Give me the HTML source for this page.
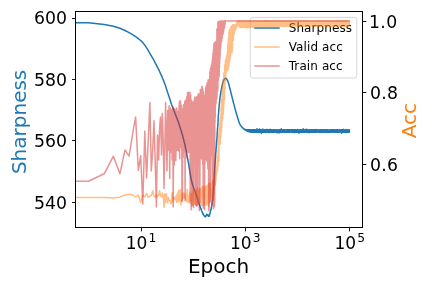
<!DOCTYPE html>
<html><head><meta charset="utf-8"><title>Sharpness / Acc vs Epoch</title>
<style>html,body{margin:0;padding:0;background:#fff}body{width:432px;height:288px;overflow:hidden}</style></head>
<body>
<svg width="432" height="288" viewBox="0 0 432 288" style="display:block;font-family:'DejaVu Sans','Liberation Sans',sans-serif">
<defs><clipPath id="c"><rect x="75.45" y="11.00" width="287.04" height="216.00"/></clipPath></defs>
<rect width="432" height="288" fill="#fff"/>
<g clip-path="url(#c)" fill="none" stroke-linejoin="round">
<path d="M60.0 22.8 L88.5 22.8 L104.2 24.6 L113.4 26.2 L119.9 28.3 L125.0 30.5 L129.1 32.6 L132.6 34.7 L135.6 36.7 L138.3 38.6 L140.7 40.5 L142.8 42.6 L144.8 45.2 L146.6 47.9 L148.3 50.7 L149.9 53.3 L151.3 55.8 L152.7 58.2 L154.0 60.5 L155.2 62.8 L156.4 65.1 L157.5 67.3 L158.6 69.4 L159.6 71.5 L160.5 73.6 L161.5 75.6 L162.3 77.6 L163.2 79.7 L164.0 81.7 L164.8 83.9 L165.6 86.1 L166.3 88.3 L167.0 90.5 L167.7 92.7 L168.4 94.7 L169.1 96.8 L169.7 98.7 L170.3 100.6 L170.9 102.4 L171.5 104.2 L172.1 105.8 L172.7 107.3 L173.2 108.8 L173.7 110.2 L174.3 111.5 L174.8 112.8 L175.3 114.1 L175.8 115.3 L176.2 116.5 L176.7 117.7 L177.2 118.9 L177.6 120.1 L178.1 121.3 L178.5 122.5 L178.9 123.7 L179.3 125.0 L179.7 126.2 L180.1 127.5 L180.5 128.7 L180.9 130.0 L181.3 131.2 L181.7 132.5 L182.0 133.7 L182.4 135.0 L182.8 136.3 L183.1 137.6 L183.5 138.9 L183.8 140.2 L184.1 141.5 L184.5 142.9 L184.8 144.2 L185.1 145.7 L185.4 147.2 L185.7 148.7 L186.1 150.2 L186.4 151.7 L186.7 153.2 L187.0 154.8 L187.2 156.3 L187.5 157.8 L187.8 159.5 L188.1 161.1 L188.4 162.7 L188.7 164.4 L188.9 166.1 L189.2 167.7 L189.5 169.3 L189.7 170.9 L190.0 172.4 L190.2 173.9 L190.5 175.3 L190.7 176.7 L191.0 178.0 L191.2 179.2 L191.5 180.3 L191.7 181.4 L192.0 182.3 L192.2 183.2 L192.4 184.0 L192.6 184.8 L192.9 185.6 L193.1 186.3 L193.3 187.0 L193.5 187.6 L193.8 188.3 L194.0 188.9 L194.2 189.5 L194.4 190.0 L194.6 190.6 L194.8 191.1 L195.0 191.7 L195.2 192.2 L195.4 192.7 L195.6 193.2 L195.8 193.8 L196.0 194.3 L196.2 194.8 L196.4 195.3 L196.6 195.9 L196.8 196.4 L197.0 196.9 L197.2 197.5 L197.4 198.0 L197.6 198.6 L197.8 199.2 L197.9 199.8 L198.1 200.3 L198.3 200.9 L198.5 201.5 L198.6 202.0 L198.8 202.7 L199.0 203.2 L199.2 203.8 L199.3 204.5 L199.5 204.7 L199.7 205.3 L199.8 205.8 L200.0 206.4 L200.2 206.6 L200.3 206.9 L200.5 208.0 L200.7 208.1 L200.8 208.5 L201.0 208.5 L201.1 209.7 L201.3 209.5 L201.5 210.5 L201.6 210.8 L201.8 211.3 L201.9 211.1 L202.1 211.9 L202.2 212.3 L202.4 212.8 L202.5 212.5 L202.7 213.1 L202.8 213.5 L203.0 214.2 L203.1 213.6 L203.2 214.4 L203.4 214.4 L203.5 214.5 L203.7 215.0 L203.8 215.1 L203.9 215.7 L204.1 215.7 L204.2 215.9 L204.4 215.8 L204.5 215.9 L204.6 215.9 L204.8 216.2 L204.9 216.6 L205.0 216.5 L205.2 216.9 L205.3 216.1 L205.4 216.1 L205.6 216.2 L205.7 216.5 L205.8 215.8 L205.9 216.2 L206.1 215.4 L206.2 215.2 L206.3 215.2 L206.4 215.7 L206.6 215.3 L206.7 214.7 L206.8 214.3 L206.9 214.5 L207.1 214.7 L207.2 214.5 L207.3 215.0 L207.4 214.7 L207.5 215.2 L207.7 214.8 L207.8 215.0 L207.9 215.3 L208.0 215.3 L208.1 215.7 L208.2 215.6 L208.4 216.1 L208.5 216.3 L208.6 215.6 L208.7 215.9 L208.8 215.6 L208.9 216.0 L209.0 216.0 L209.1 216.3 L209.3 216.2 L209.4 215.1 L209.5 215.0 L209.6 214.6 L209.7 214.8 L209.8 214.0 L209.9 213.9 L210.0 213.3 L210.1 213.2 L210.2 212.5 L210.3 211.9 L210.4 211.7 L210.5 211.0 L210.6 210.5 L210.7 210.5 L210.8 209.5 L211.0 209.8 L211.1 208.9 L211.2 208.7 L211.3 207.6 L211.4 207.3 L211.5 207.3 L211.6 206.3 L211.7 206.2 L211.8 205.5 L211.9 204.8 L211.9 204.3 L212.0 203.6 L212.1 203.5 L212.2 202.7 L212.3 201.9 L212.4 201.4 L212.5 200.5 L212.6 199.8 L212.7 199.2 L212.8 198.5 L212.9 197.5 L213.1 196.1 L213.2 195.2 L213.3 194.2 L213.4 193.0 L213.5 191.7 L213.6 190.3 L213.6 188.7 L213.7 187.2 L213.8 185.7 L213.9 184.0 L214.1 180.6 L214.2 178.8 L214.3 177.1 L214.4 175.4 L214.4 173.7 L214.5 172.0 L214.6 170.4 L214.7 168.8 L214.9 165.9 L215.0 164.5 L215.0 163.3 L215.1 162.0 L215.2 160.8 L215.3 159.7 L215.5 157.4 L215.6 156.3 L215.6 155.2 L215.7 154.2 L215.9 152.0 L216.0 151.0 L216.0 149.9 L216.1 148.9 L216.3 146.8 L216.4 145.7 L216.5 144.7 L216.5 143.6 L216.7 141.4 L216.8 140.3 L216.9 139.2 L216.9 138.0 L217.1 135.8 L217.2 134.6 L217.2 133.5 L217.3 132.4 L217.5 130.1 L217.5 129.0 L217.6 127.8 L217.7 126.7 L217.9 124.4 L217.9 123.2 L218.1 120.8 L218.2 119.6 L218.2 118.4 L218.3 117.2 L218.4 114.9 L218.5 113.8 L218.7 111.7 L218.7 110.8 L218.9 109.0 L219.0 108.2 L219.1 106.5 L219.2 105.7 L219.2 104.9 L219.3 104.2 L219.5 102.7 L219.5 102.0 L219.7 100.7 L219.7 100.0 L219.9 98.8 L219.9 98.3 L220.1 97.3 L220.1 96.8 L220.3 95.8 L220.3 95.3 L220.5 94.5 L220.5 94.0 L220.7 93.2 L220.7 92.8 L220.9 92.1 L220.9 91.7 L221.1 91.0 L221.1 90.6 L221.3 90.0 L221.3 89.6 L221.5 89.0 L221.5 88.6 L221.7 88.0 L221.7 87.7 L221.8 87.1 L221.9 86.8 L222.1 85.8 L222.2 85.5 L222.3 84.9 L222.3 84.6 L222.5 84.0 L222.5 83.7 L222.7 83.2 L222.7 82.9 L222.9 82.2 L223.0 82.0 L223.1 81.7 L223.1 81.5 L223.3 81.2 L223.3 81.1 L223.5 80.7 L223.5 80.6 L223.7 80.4 L223.7 80.3 L223.9 80.0 L224.0 79.9 L224.1 79.7 L224.1 79.6 L224.3 79.4 L224.4 79.3 L224.5 79.1 L224.5 79.0 L224.7 78.8 L224.7 78.8 L224.9 78.7 L224.9 78.6 L225.1 78.5 L225.1 78.5 L225.3 78.4 L225.3 78.3 L225.5 78.3 L225.5 78.3 L225.6 78.3 L225.7 78.3 L225.7 78.3 L225.9 78.4 L225.9 78.4 L226.1 78.5 L226.1 78.5 L226.2 78.6 L226.3 78.7 L226.5 78.9 L226.5 78.9 L226.7 79.1 L226.7 79.2 L226.9 79.4 L226.9 79.5 L227.1 79.8 L227.1 79.8 L227.3 80.1 L227.3 80.2 L227.5 80.5 L227.5 80.6 L227.7 80.8 L227.7 80.9 L227.9 81.2 L227.9 81.3 L228.1 81.8 L228.1 81.9 L228.3 82.3 L228.3 82.5 L228.5 82.9 L228.5 83.1 L228.7 83.6 L228.7 83.8 L228.9 84.5 L228.9 84.6 L229.1 85.2 L229.1 85.4 L229.3 85.9 L229.3 86.1 L229.5 86.9 L229.5 87.1 L229.7 87.6 L229.7 87.8 L229.9 88.5 L229.9 88.7 L230.1 89.2 L230.1 89.3 L230.3 90.0 L230.3 90.2 L230.5 90.7 L230.5 90.8 L230.7 91.5 L230.7 91.7 L230.9 92.4 L230.9 92.5 L231.1 93.1 L231.1 93.2 L231.3 93.9 L231.3 94.1 L231.5 94.8 L231.5 94.9 L231.7 95.6 L231.7 95.8 L231.9 96.4 L231.9 96.6 L232.1 97.2 L232.1 97.4 L232.3 98.0 L232.3 98.2 L232.5 98.8 L232.5 99.0 L232.7 99.6 L232.7 99.8 L232.9 100.4 L232.9 100.5 L233.1 101.1 L233.1 101.3 L233.3 102.0 L233.3 102.2 L233.5 102.8 L233.5 102.9 L233.7 103.5 L233.7 103.7 L233.9 104.2 L233.9 104.4 L234.1 105.1 L234.1 105.2 L234.3 105.8 L234.3 105.9 L234.5 106.6 L234.5 106.8 L234.7 107.3 L234.7 107.4 L234.9 108.1 L234.9 108.2 L235.1 108.9 L235.1 109.0 L235.3 109.5 L235.3 109.6 L235.5 110.3 L235.5 110.4 L235.7 111.0 L235.7 111.1 L235.9 111.7 L235.9 111.9 L236.1 112.5 L236.1 112.6 L236.3 113.2 L236.3 113.3 L236.5 113.9 L236.5 114.0 L236.7 114.5 L236.7 114.6 L236.9 115.2 L236.9 115.3 L237.1 115.9 L237.1 116.0 L237.3 116.5 L237.3 116.6 L237.5 117.3 L237.5 117.4 L237.7 117.9 L237.7 118.0 L237.9 118.5 L237.9 118.6 L238.1 119.2 L238.1 119.3 L238.3 119.8 L238.3 119.9 L238.5 120.5 L238.5 120.6 L238.7 121.1 L238.7 121.2 L238.9 121.6 L238.9 121.7 L239.1 122.2 L239.1 122.2 L239.3 122.7 L239.3 122.8 L239.5 123.3 L239.5 123.3 L239.7 123.8 L239.7 123.8 L239.9 124.2 L239.9 124.3 L240.1 124.6 L240.1 124.7 L240.3 125.0 L240.3 125.0 L240.5 125.3 L240.5 125.3 L240.7 125.6 L240.7 125.6 L240.9 125.9 L240.9 125.9 L241.1 126.2 L241.1 126.2 L241.3 126.4 L241.3 126.4 L241.5 126.7 L241.5 126.7 L241.7 126.9 L241.7 126.9 L241.9 127.1 L241.9 127.1 L242.1 127.3 L242.1 127.3 L242.3 127.5 L242.3 127.5 L242.5 127.7 L242.5 127.7 L242.7 127.9 L242.7 127.9 L242.9 128.1 L242.9 128.1 L243.1 128.2 L243.1 128.3 L243.2 128.4 L243.3 128.4 L243.3 128.4 L243.4 128.6 L243.5 128.5 L243.5 128.7 L243.6 128.6 L243.7 128.8 L243.7 128.7 L243.8 128.9 L243.9 128.9 L243.9 128.8 L244.1 129.1 L244.1 129.1 L244.1 129.1 L244.2 129.3 L244.3 129.2 L244.3 129.3 L244.3 129.2 L244.4 129.5 L244.5 129.4 L244.5 129.5 L244.6 129.6 L244.6 129.2 L244.7 129.3 L244.7 129.7 L244.8 129.8 L244.9 129.4 L244.9 129.7 L244.9 129.6 L244.9 129.4 L245.0 129.8 L245.1 129.5 L245.1 129.9 L245.2 129.6 L245.3 130.1 L245.3 129.8 L245.3 129.6 L245.4 130.2 L245.4 129.5 L245.5 129.7 L245.5 130.1 L245.6 130.2 L245.6 129.7 L245.7 130.1 L245.7 130.3 L245.8 129.7 L245.9 130.0 L245.9 130.5 L246.1 129.7 L246.1 129.7 L246.1 130.0 L246.1 129.7 L246.2 130.5 L246.3 129.8 L246.3 130.2 L246.3 130.6 L246.4 129.8 L246.5 129.9 L246.5 130.4 L246.7 130.8 L246.7 129.8 L246.7 130.9 L246.7 131.0 L246.9 130.0 L246.9 130.7 L247.0 130.3 L247.1 131.1 L247.1 131.0 L247.2 129.9 L247.3 131.1 L247.3 130.8 L247.3 130.2 L247.4 131.2 L247.5 130.7 L247.5 130.0 L247.6 131.2 L247.7 130.9 L247.7 131.3 L247.8 130.1 L247.8 131.4 L247.9 130.3 L247.9 131.4 L248.1 130.6 L248.1 131.1 L248.2 130.0 L248.3 131.5 L248.3 130.4 L248.3 130.1 L248.4 130.0 L248.4 131.5 L248.5 130.8 L248.5 130.3 L248.6 130.1 L248.6 131.6 L248.7 131.5 L248.7 130.9 L248.8 130.0 L248.8 131.7 L248.9 131.0 L248.9 131.7 L249.0 131.8 L249.1 130.0 L249.1 130.5 L249.2 131.8 L249.3 130.0 L249.3 131.7 L249.3 130.2 L249.4 130.0 L249.4 131.8 L249.5 131.4 L249.5 130.9 L249.6 131.9 L249.7 130.1 L249.7 130.8 L249.7 132.0 L249.8 130.1 L249.9 130.9 L249.9 130.6 L250.0 131.6 L250.1 129.9 L250.1 131.7 L250.2 129.9 L250.2 132.1 L250.3 130.5 L250.3 131.5 L250.4 130.0 L250.5 132.1 L250.5 130.4 L250.6 132.0 L250.7 129.9 L250.7 131.5 L250.7 131.2 L250.7 130.0 L250.9 131.7 L250.9 131.4 L250.9 130.5 L251.0 132.3 L251.1 130.2 L251.1 129.8 L251.3 132.3 L251.3 130.2 L251.3 131.2 L251.4 130.2 L251.5 132.2 L251.5 130.3 L251.5 130.6 L251.6 129.9 L251.6 132.1 L251.7 130.9 L251.7 130.7 L251.8 132.2 L251.8 130.0 L251.9 131.1 L251.9 130.9 L252.0 132.2 L252.1 129.8 L252.1 130.0 L252.1 130.1 L252.1 129.9 L252.3 131.8 L252.3 130.2 L252.3 132.1 L252.4 129.8 L252.5 132.2 L252.5 131.2 L252.5 132.2 L252.7 130.5 L252.7 130.8 L252.7 132.2 L252.8 129.9 L252.9 130.0 L252.9 130.4 L253.0 132.0 L253.1 129.8 L253.1 132.0 L253.2 132.2 L253.2 129.8 L253.3 130.9 L253.3 130.4 L253.3 132.2 L253.4 130.0 L253.5 132.0 L253.5 130.2 L253.5 129.9 L253.6 132.0 L253.7 131.9 L253.7 130.4 L253.8 130.1 L253.8 132.2 L253.9 131.8 L253.9 131.7 L254.0 129.9 L254.1 132.1 L254.1 129.8 L254.3 132.6 L254.3 131.6 L254.4 129.8 L254.5 132.3 L254.5 130.1 L254.6 129.8 L254.6 132.1 L254.7 131.7 L254.7 131.3 L254.8 129.8 L254.9 132.1 L254.9 130.1 L254.9 131.1 L254.9 132.1 L255.0 129.8 L255.1 131.9 L255.1 131.2 L255.1 129.8 L255.3 132.2 L255.3 130.9 L255.3 130.9 L255.3 129.9 L255.4 132.2 L255.5 131.1 L255.5 131.9 L255.5 130.2 L255.7 132.0 L255.7 130.7 L255.7 131.6 L255.8 129.9 L255.9 132.3 L255.9 132.2 L255.9 130.2 L256.1 131.2 L256.1 129.9 L256.2 132.2 L256.2 129.8 L256.3 131.5 L256.3 132.1 L256.4 132.2 L256.5 129.9 L256.5 130.3 L256.5 130.3 L256.6 132.0 L256.6 129.8 L256.7 131.4 L256.7 131.0 L256.8 132.0 L256.8 129.9 L256.9 131.9 L256.9 130.6 L257.0 128.8 L257.0 132.6 L257.1 131.0 L257.1 130.3 L257.1 129.9 L257.2 132.3 L257.3 130.4 L257.3 130.9 L257.4 129.9 L257.4 132.3 L257.5 130.7 L257.5 131.2 L257.6 132.1 L257.7 129.9 L257.7 131.7 L257.7 132.3 L257.9 129.9 L257.9 131.2 L258.1 132.2 L258.1 129.9 L258.1 130.5 L258.1 132.3 L258.3 129.9 L258.3 130.1 L258.3 131.2 L258.3 132.3 L258.4 130.0 L258.5 131.8 L258.5 129.9 L258.6 129.9 L258.6 132.2 L258.7 131.0 L258.7 131.2 L258.8 132.3 L258.8 130.1 L258.9 130.8 L258.9 130.3 L258.9 132.1 L259.0 129.9 L259.1 131.7 L259.1 131.6 L259.2 132.1 L259.3 130.3 L259.3 132.0 L259.3 132.1 L259.4 128.9 L259.4 132.1 L259.5 129.9 L259.5 131.4 L259.6 128.9 L259.6 132.2 L259.7 131.0 L259.7 131.6 L259.8 130.1 L259.9 132.3 L259.9 132.0 L259.9 130.1 L260.0 131.8 L260.0 129.8 L260.1 130.1 L260.1 130.8 L260.1 129.8 L260.3 132.2 L260.3 131.0 L260.4 129.8 L260.5 131.8 L260.5 130.5 L260.5 130.0 L260.5 132.1 L260.7 130.0 L260.7 130.9 L260.7 131.2 L260.8 129.8 L260.9 132.3 L260.9 132.2 L260.9 131.1 L260.9 132.2 L261.0 129.7 L261.1 131.2 L261.1 131.0 L261.2 129.9 L261.3 132.2 L261.3 132.0 L261.3 131.7 L261.4 133.4 L261.5 129.8 L261.5 132.2 L261.5 131.1 L261.6 129.9 L261.7 132.2 L261.7 131.3 L261.7 131.6 L261.8 132.2 L261.8 129.9 L261.9 130.7 L261.9 131.2 L261.9 129.8 L262.0 132.0 L262.1 131.6 L262.1 132.0 L262.1 132.3 L262.3 130.1 L262.3 130.0 L262.5 132.3 L262.5 132.0 L262.5 131.7 L262.6 129.8 L262.7 132.2 L262.7 132.2 L262.8 129.0 L262.9 132.2 L262.9 131.2 L262.9 132.2 L262.9 132.3 L263.1 129.8 L263.1 130.5 L263.1 131.8 L263.1 129.9 L263.3 132.3 L263.3 131.6 L263.3 130.7 L263.4 132.3 L263.5 129.8 L263.5 130.3 L263.5 131.4 L263.5 129.9 L263.7 132.2 L263.7 131.0 L263.7 130.7 L263.8 129.9 L263.8 132.2 L263.9 131.2 L263.9 130.3 L264.0 130.0 L264.1 132.2 L264.1 130.5 L264.1 129.9 L264.2 132.2 L264.3 130.0 L264.3 130.5 L264.4 129.8 L264.5 132.2 L264.5 131.9 L264.5 131.7 L264.6 132.1 L264.7 130.0 L264.7 130.2 L264.7 130.0 L264.7 130.0 L264.7 132.2 L264.9 130.8 L264.9 129.8 L265.1 132.3 L265.1 130.0 L265.1 131.0 L265.2 130.1 L265.2 131.7 L265.3 131.5 L265.3 132.1 L265.3 129.9 L265.4 132.2 L265.5 130.5 L265.5 131.4 L265.5 132.1 L265.6 129.8 L265.7 131.6 L265.7 129.9 L265.7 132.2 L265.9 132.0 L265.9 132.2 L266.0 132.3 L266.1 129.8 L266.1 131.8 L266.1 132.3 L266.2 129.8 L266.3 131.9 L266.3 131.8 L266.5 130.2 L266.5 132.3 L266.5 131.5 L266.7 129.8 L266.7 132.3 L266.7 132.0 L266.7 131.7 L266.7 129.9 L266.8 132.3 L266.9 131.2 L266.9 130.3 L266.9 132.2 L267.0 129.2 L267.1 131.5 L267.1 130.7 L267.2 131.9 L267.2 129.9 L267.3 131.2 L267.3 130.0 L267.5 129.8 L267.5 132.1 L267.5 130.4 L267.5 130.7 L267.7 129.9 L267.7 132.3 L267.7 130.5 L267.7 131.1 L267.8 130.0 L267.8 132.2 L267.9 130.9 L267.9 129.9 L267.9 129.9 L267.9 132.3 L268.1 130.0 L268.1 130.7 L268.1 132.2 L268.2 129.8 L268.3 130.8 L268.3 129.9 L268.4 132.1 L268.5 131.6 L268.5 131.9 L268.5 129.8 L268.6 132.3 L268.7 130.1 L268.7 131.5 L268.8 129.8 L268.9 132.3 L268.9 130.0 L268.9 131.5 L269.0 132.1 L269.0 129.8 L269.1 130.6 L269.1 132.2 L269.1 129.8 L269.1 132.7 L269.3 130.9 L269.3 129.9 L269.4 129.9 L269.5 132.2 L269.5 131.9 L269.6 132.2 L269.7 129.9 L269.7 130.3 L269.7 129.8 L269.8 132.2 L269.9 130.8 L269.9 130.6 L269.9 132.2 L270.1 129.2 L270.1 131.8 L270.1 130.5 L270.1 130.1 L270.2 132.3 L270.3 131.6 L270.3 130.9 L270.4 132.1 L270.4 130.6 L270.5 131.5 L270.5 131.0 L270.6 132.3 L270.7 129.9 L270.7 131.8 L270.7 132.2 L270.9 130.4 L270.9 130.9 L270.9 131.2 L270.9 132.1 L271.0 129.9 L271.1 131.2 L271.1 130.1 L271.2 132.2 L271.3 130.3 L271.3 131.3 L271.4 132.0 L271.5 130.0 L271.5 131.9 L271.5 131.6 L271.6 130.0 L271.7 131.9 L271.7 131.1 L271.7 129.9 L271.7 131.8 L271.9 130.4 L271.9 131.2 L272.0 132.0 L272.1 129.9 L272.1 130.0 L272.2 132.3 L272.3 131.0 L272.3 130.8 L272.3 132.3 L272.5 131.2 L272.5 131.8 L272.6 129.8 L272.7 131.3 L272.7 131.7 L272.9 130.0 L272.9 131.3 L272.9 132.0 L273.0 130.0 L273.1 132.3 L273.1 131.9 L273.1 131.2 L273.2 132.1 L273.3 129.9 L273.3 131.8 L273.4 132.0 L273.4 129.9 L273.5 130.4 L273.5 130.1 L273.6 132.3 L273.7 130.6 L273.7 130.8 L273.9 132.1 L273.9 129.9 L273.9 129.9 L274.1 132.2 L274.1 131.2 L274.2 131.9 L274.2 129.8 L274.3 130.5 L274.3 132.3 L274.3 129.9 L274.4 132.3 L274.5 130.7 L274.5 130.3 L274.5 130.0 L274.6 131.8 L274.7 130.3 L274.7 130.9 L274.8 131.9 L274.9 130.0 L274.9 130.6 L274.9 130.0 L275.0 131.8 L275.1 130.5 L275.1 131.3 L275.2 131.8 L275.2 130.4 L275.3 131.4 L275.3 130.2 L275.5 131.6 L275.5 131.0 L275.5 130.6 L275.5 130.3 L275.6 132.2 L275.7 130.9 L275.7 129.8 L275.8 132.2 L275.9 129.8 L275.9 129.9 L275.9 131.7 L276.0 130.1 L276.0 131.8 L276.1 130.1 L276.1 132.1 L276.2 130.1 L276.2 132.3 L276.3 130.9 L276.3 130.5 L276.4 130.1 L276.5 132.3 L276.5 131.3 L276.5 130.6 L276.6 132.3 L276.6 130.2 L276.7 131.3 L276.7 131.8 L276.8 131.9 L276.8 130.0 L276.9 130.9 L276.9 130.7 L277.0 130.0 L277.1 133.0 L277.1 130.0 L277.2 129.9 L277.2 131.7 L277.3 130.7 L277.3 130.5 L277.3 132.2 L277.4 130.0 L277.5 130.0 L277.5 131.1 L277.6 131.9 L277.6 130.0 L277.7 130.6 L277.7 131.3 L277.7 130.0 L277.8 132.1 L277.9 131.6 L277.9 130.5 L278.0 132.1 L278.1 130.4 L278.1 131.6 L278.1 129.9 L278.1 131.7 L278.2 129.9 L278.3 131.6 L278.3 130.7 L278.4 132.3 L278.5 132.1 L278.5 132.1 L278.6 132.1 L278.7 130.1 L278.7 131.8 L278.7 129.9 L278.8 132.8 L278.9 131.6 L278.9 130.7 L279.0 132.0 L279.1 130.3 L279.1 130.3 L279.1 130.5 L279.2 132.3 L279.3 130.1 L279.3 130.4 L279.4 131.9 L279.4 130.0 L279.5 130.1 L279.5 132.2 L279.6 132.3 L279.6 129.9 L279.7 131.0 L279.7 132.8 L279.8 130.7 L279.9 131.9 L279.9 130.5 L280.0 132.2 L280.1 129.8 L280.1 130.3 L280.1 131.7 L280.1 130.2 L280.2 132.0 L280.3 131.4 L280.3 131.3 L280.3 131.6 L280.5 130.0 L280.5 131.3 L280.5 131.5 L280.6 132.1 L280.6 129.8 L280.7 131.0 L280.7 130.9 L280.7 129.9 L280.9 132.0 L280.9 129.8 L281.0 129.8 L281.0 132.2 L281.1 131.5 L281.1 131.9 L281.1 132.2 L281.2 129.9 L281.3 130.0 L281.3 131.4 L281.3 128.7 L281.5 131.9 L281.5 131.5 L281.6 131.9 L281.7 129.8 L281.7 129.9 L281.7 130.9 L281.7 130.1 L281.8 131.9 L281.9 131.1 L281.9 130.2 L281.9 130.2 L282.0 132.2 L282.1 130.3 L282.1 131.7 L282.1 130.0 L282.2 132.2 L282.3 131.4 L282.3 131.4 L282.4 129.9 L282.4 132.2 L282.5 132.0 L282.5 129.8 L282.6 131.8 L282.7 131.5 L282.7 131.4 L282.7 132.1 L282.8 130.0 L282.9 131.8 L282.9 132.0 L283.0 129.9 L283.1 132.3 L283.1 131.5 L283.1 130.3 L283.1 129.9 L283.2 132.2 L283.3 131.8 L283.3 132.2 L283.3 129.8 L283.5 132.2 L283.5 131.5 L283.6 132.2 L283.6 130.2 L283.7 131.9 L283.7 130.0 L283.9 131.6 L283.9 129.8 L283.9 132.2 L284.1 131.8 L284.1 130.6 L284.2 132.1 L284.2 129.9 L284.3 130.8 L284.3 130.2 L284.4 129.8 L284.5 132.3 L284.5 131.6 L284.5 132.1 L284.7 129.9 L284.7 131.1 L284.8 132.3 L284.9 130.4 L284.9 130.9 L284.9 130.0 L285.0 132.3 L285.1 129.9 L285.1 129.9 L285.1 131.5 L285.2 132.2 L285.3 130.2 L285.3 130.7 L285.3 131.4 L285.4 132.2 L285.4 130.1 L285.5 131.9 L285.5 131.6 L285.6 132.3 L285.7 130.3 L285.7 131.2 L285.7 130.5 L285.9 131.9 L285.9 129.9 L285.9 132.1 L285.9 130.4 L286.1 132.3 L286.1 132.0 L286.1 132.0 L286.1 132.1 L286.2 130.2 L286.3 131.2 L286.3 130.4 L286.4 131.8 L286.4 130.0 L286.5 131.5 L286.5 130.4 L286.6 130.0 L286.6 131.9 L286.7 131.2 L286.7 132.0 L286.8 132.3 L286.8 129.9 L286.9 130.3 L286.9 132.0 L286.9 132.2 L287.0 129.9 L287.1 131.9 L287.1 131.5 L287.2 131.8 L287.3 129.9 L287.3 130.8 L287.3 130.2 L287.4 130.0 L287.5 132.0 L287.5 129.9 L287.6 132.3 L287.7 129.9 L287.7 132.3 L287.8 130.0 L287.9 132.1 L287.9 129.9 L288.0 132.3 L288.1 131.8 L288.1 131.4 L288.2 130.5 L288.2 132.1 L288.3 132.0 L288.3 131.2 L288.3 131.9 L288.4 129.9 L288.5 130.8 L288.5 131.3 L288.6 132.3 L288.7 130.0 L288.7 130.7 L288.7 132.0 L288.7 129.8 L288.9 130.5 L288.9 129.8 L289.1 132.0 L289.1 131.0 L289.1 131.1 L289.2 132.2 L289.2 130.1 L289.3 131.9 L289.3 132.0 L289.4 129.9 L289.5 132.3 L289.5 132.2 L289.6 129.8 L289.7 131.3 L289.7 129.8 L289.8 132.3 L289.9 130.2 L289.9 131.9 L289.9 129.9 L290.0 132.0 L290.1 131.0 L290.1 131.3 L290.1 132.0 L290.2 129.9 L290.3 130.5 L290.3 131.8 L290.4 129.8 L290.5 130.1 L290.5 130.1 L290.7 132.0 L290.7 131.0 L290.8 130.3 L290.8 132.0 L290.9 131.2 L290.9 131.8 L290.9 132.1 L291.1 129.8 L291.1 130.8 L291.1 130.7 L291.1 132.2 L291.3 130.0 L291.3 130.4 L291.3 130.3 L291.5 129.9 L291.5 131.1 L291.5 130.3 L291.5 131.4 L291.6 130.1 L291.6 132.1 L291.7 131.1 L291.7 132.1 L291.8 129.9 L291.9 132.3 L291.9 130.2 L291.9 132.3 L292.0 129.8 L292.1 132.0 L292.1 131.5 L292.2 129.8 L292.3 132.1 L292.3 131.5 L292.4 132.3 L292.4 130.4 L292.5 131.3 L292.5 132.2 L292.6 129.9 L292.7 130.7 L292.7 131.7 L292.8 129.8 L292.9 132.2 L292.9 130.5 L292.9 130.6 L292.9 130.2 L293.0 132.2 L293.1 131.6 L293.1 131.7 L293.2 130.1 L293.3 132.2 L293.3 131.8 L293.3 129.8 L293.4 132.1 L293.5 130.8 L293.5 132.0 L293.6 129.8 L293.6 132.1 L293.7 130.6 L293.7 130.2 L293.7 132.0 L293.8 129.8 L293.9 130.6 L293.9 130.0 L294.0 132.3 L294.1 130.3 L294.1 130.9 L294.2 129.8 L294.2 132.3 L294.3 130.7 L294.3 132.8 L294.4 130.3 L294.5 131.5 L294.5 131.3 L294.6 132.3 L294.6 130.0 L294.7 131.3 L294.7 130.1 L294.8 132.1 L294.9 130.5 L294.9 130.9 L295.0 132.2 L295.0 129.8 L295.1 131.7 L295.1 130.1 L295.2 131.8 L295.3 129.9 L295.3 130.5 L295.3 131.2 L295.3 130.3 L295.4 131.7 L295.5 130.7 L295.5 130.0 L295.5 132.0 L295.6 129.9 L295.7 130.8 L295.7 130.1 L295.7 131.8 L295.9 129.9 L295.9 131.7 L295.9 132.2 L296.0 130.3 L296.1 131.1 L296.1 131.9 L296.1 132.0 L296.3 129.9 L296.3 130.4 L296.3 131.0 L296.4 132.1 L296.5 130.2 L296.5 132.2 L296.6 130.3 L296.7 130.4 L296.7 130.1 L296.8 132.2 L296.8 129.8 L296.9 129.8 L296.9 130.8 L297.0 129.8 L297.0 132.3 L297.1 130.1 L297.1 132.2 L297.3 129.6 L297.3 130.2 L297.3 129.9 L297.4 131.9 L297.5 131.0 L297.5 132.2 L297.6 130.5 L297.7 131.9 L297.7 130.6 L297.8 132.2 L297.8 130.2 L297.9 131.6 L297.9 130.0 L298.0 129.9 L298.0 132.3 L298.1 131.1 L298.1 132.0 L298.1 129.9 L298.2 132.1 L298.3 129.9 L298.3 130.6 L298.3 132.3 L298.5 130.5 L298.5 130.9 L298.5 130.8 L298.5 132.2 L298.6 130.3 L298.7 130.7 L298.7 131.0 L298.8 132.0 L298.8 130.1 L298.9 130.7 L298.9 130.8 L298.9 133.3 L299.0 129.8 L299.1 133.0 L299.1 130.4 L299.2 132.2 L299.2 129.9 L299.3 130.7 L299.3 131.8 L299.3 131.9 L299.5 130.4 L299.5 130.2 L299.6 132.0 L299.7 131.4 L299.7 132.3 L299.8 130.4 L299.9 132.0 L299.9 130.8 L299.9 129.9 L300.0 132.2 L300.1 130.9 L300.1 132.0 L300.2 132.0 L300.3 129.9 L300.3 130.9 L300.3 130.7 L300.5 132.0 L300.5 129.8 L300.5 130.2 L300.5 131.4 L300.5 132.3 L300.6 129.9 L300.7 132.1 L300.7 130.9 L300.8 131.5 L300.8 129.8 L300.9 130.1 L300.9 131.0 L300.9 129.9 L301.1 131.9 L301.1 129.9 L301.1 131.2 L301.2 132.0 L301.3 129.9 L301.3 130.1 L301.3 130.9 L301.3 130.3 L301.4 132.3 L301.5 130.9 L301.5 130.0 L301.6 129.9 L301.6 132.0 L301.7 130.2 L301.7 131.4 L301.8 129.9 L301.9 131.9 L301.9 130.9 L301.9 130.5 L301.9 129.8 L302.0 132.3 L302.1 130.1 L302.1 131.3 L302.2 129.8 L302.3 132.1 L302.3 132.1 L302.3 130.4 L302.5 132.2 L302.5 131.2 L302.6 132.3 L302.7 129.9 L302.7 131.4 L302.8 129.9 L302.8 132.0 L302.9 131.3 L302.9 131.3 L303.0 132.0 L303.1 129.8 L303.1 130.4 L303.2 128.8 L303.2 132.2 L303.3 130.9 L303.3 132.2 L303.5 130.6 L303.5 132.3 L303.5 129.9 L303.7 130.8 L303.7 130.9 L303.8 132.2 L303.9 131.0 L303.9 129.9 L303.9 132.2 L304.1 130.1 L304.1 130.8 L304.1 132.1 L304.2 129.9 L304.3 131.6 L304.3 130.5 L304.5 129.8 L304.5 132.2 L304.5 132.0 L304.5 129.9 L304.7 132.1 L304.7 131.1 L304.8 132.2 L304.8 129.9 L304.9 131.0 L304.9 130.3 L304.9 129.8 L305.0 132.3 L305.1 130.3 L305.1 131.6 L305.2 130.3 L305.2 132.1 L305.3 131.7 L305.3 131.6 L305.3 132.2 L305.5 129.9 L305.5 131.2 L305.5 131.0 L305.6 132.2 L305.7 130.2 L305.7 131.6 L305.7 130.1 L305.7 130.0 L305.9 132.1 L305.9 131.9 L305.9 130.5 L305.9 129.9 L306.0 132.2 L306.1 132.0 L306.1 129.9 L306.1 129.2 L306.3 131.8 L306.3 130.6 L306.3 130.7 L306.4 132.3 L306.5 130.4 L306.5 131.0 L306.6 131.6 L306.6 129.8 L306.7 131.0 L306.7 130.7 L306.8 132.0 L306.8 129.2 L306.9 130.3 L306.9 129.9 L307.0 129.8 L307.0 131.2 L307.1 130.1 L307.1 131.1 L307.2 132.0 L307.2 130.0 L307.3 130.2 L307.3 131.5 L307.3 132.3 L307.5 129.8 L307.5 131.9 L307.7 132.3 L307.7 130.3 L307.7 130.9 L307.7 130.6 L307.7 132.0 L307.8 129.9 L307.9 130.0 L307.9 130.9 L307.9 129.8 L308.0 132.0 L308.1 131.5 L308.1 130.0 L308.2 132.2 L308.3 131.9 L308.3 131.4 L308.3 132.2 L308.4 130.6 L308.5 131.3 L308.5 130.3 L308.5 132.2 L308.7 131.4 L308.7 130.2 L308.9 132.8 L308.9 130.6 L308.9 131.8 L309.0 129.9 L309.1 131.6 L309.1 131.3 L309.1 131.9 L309.2 130.1 L309.3 130.7 L309.3 131.9 L309.4 132.3 L309.5 130.2 L309.5 132.0 L309.5 131.1 L309.6 132.0 L309.7 130.3 L309.7 132.2 L309.8 132.3 L309.8 130.5 L309.9 130.9 L309.9 129.9 L309.9 129.8 L310.1 131.7 L310.1 130.9 L310.1 130.2 L310.2 132.3 L310.3 130.0 L310.3 129.8 L310.5 132.2 L310.5 129.8 L310.5 130.4 L310.6 130.2 L310.7 131.8 L310.7 130.6 L310.8 130.1 L310.9 132.1 L310.9 130.7 L310.9 130.0 L311.0 132.2 L311.1 130.9 L311.1 131.2 L311.1 132.1 L311.2 129.9 L311.3 130.4 L311.3 131.6 L311.4 132.2 L311.4 129.9 L311.5 131.5 L311.5 130.9 L311.6 130.0 L311.7 131.9 L311.7 131.0 L311.9 130.1 L311.9 132.3 L311.9 129.8 L312.0 131.9 L312.1 131.3 L312.1 131.6 L312.2 130.2 L312.2 131.9 L312.3 130.6 L312.3 130.9 L312.4 131.8 L312.4 129.8 L312.5 131.1 L312.5 131.9 L312.6 132.2 L312.6 130.0 L312.7 130.3 L312.7 131.6 L312.8 132.2 L312.9 129.8 L312.9 131.3 L312.9 130.3 L313.0 132.2 L313.1 131.1 L313.1 131.5 L313.1 132.2 L313.2 129.8 L313.3 131.0 L313.3 131.7 L313.4 129.9 L313.5 132.2 L313.5 131.2 L313.5 130.0 L313.5 130.0 L313.7 132.1 L313.7 130.9 L313.7 129.9 L313.9 132.0 L313.9 130.1 L314.0 129.9 L314.1 132.2 L314.1 131.8 L314.2 132.2 L314.3 129.8 L314.3 130.5 L314.3 130.6 L314.4 129.8 L314.5 131.5 L314.5 131.5 L314.5 129.9 L314.6 131.8 L314.7 131.5 L314.7 130.9 L314.8 131.9 L314.8 129.8 L314.9 131.6 L314.9 130.5 L315.0 130.2 L315.0 132.2 L315.1 130.6 L315.1 130.1 L315.2 132.0 L315.2 129.8 L315.3 130.7 L315.3 130.6 L315.3 130.0 L315.5 132.3 L315.5 131.1 L315.6 131.9 L315.7 130.2 L315.7 131.0 L315.7 132.2 L315.8 129.4 L315.9 131.3 L315.9 130.8 L315.9 129.9 L316.1 132.0 L316.1 131.7 L316.1 131.4 L316.2 130.3 L316.2 132.2 L316.3 131.3 L316.3 131.6 L316.4 132.1 L316.5 129.8 L316.5 130.3 L316.5 129.9 L316.7 132.2 L316.7 130.3 L316.7 131.9 L316.8 129.8 L316.8 132.0 L316.9 130.8 L316.9 130.7 L317.0 130.6 L317.1 131.9 L317.1 131.5 L317.1 131.3 L317.2 129.8 L317.3 131.0 L317.3 130.4 L317.4 129.9 L317.4 132.1 L317.5 130.5 L317.5 131.0 L317.6 132.1 L317.7 129.8 L317.7 131.0 L317.7 130.2 L317.8 131.7 L317.9 131.3 L317.9 131.3 L318.0 130.2 L318.1 131.8 L318.1 130.7 L318.1 132.2 L318.3 129.8 L318.3 130.1 L318.3 131.5 L318.4 129.9 L318.5 132.1 L318.5 132.2 L318.7 130.4 L318.7 132.2 L318.7 130.6 L318.8 131.7 L318.8 129.9 L318.9 130.7 L318.9 130.3 L318.9 132.2 L319.1 132.2 L319.1 131.4 L319.1 132.0 L319.3 129.9 L319.3 130.7 L319.3 132.2 L319.4 130.0 L319.5 131.9 L319.5 131.5 L319.6 132.2 L319.7 129.9 L319.7 131.3 L319.7 132.1 L319.7 132.3 L319.8 129.8 L319.9 131.3 L319.9 131.3 L320.0 130.1 L320.1 132.1 L320.1 130.2 L320.1 131.6 L320.1 132.2 L320.2 130.6 L320.3 130.6 L320.3 131.5 L320.3 129.8 L320.4 132.0 L320.5 130.1 L320.5 131.5 L320.6 130.0 L320.7 131.6 L320.7 131.4 L320.7 130.8 L320.8 132.2 L320.9 130.2 L320.9 131.8 L320.9 129.9 L321.0 132.2 L321.1 132.2 L321.1 129.9 L321.2 132.2 L321.3 130.4 L321.3 130.3 L321.4 132.1 L321.5 130.8 L321.5 131.6 L321.6 132.1 L321.6 129.9 L321.7 129.9 L321.7 131.1 L321.9 131.8 L321.9 129.8 L321.9 131.0 L322.0 130.2 L322.1 131.6 L322.1 130.9 L322.1 130.1 L322.2 132.3 L322.3 129.8 L322.3 130.9 L322.3 130.1 L322.4 132.1 L322.4 129.8 L322.5 131.7 L322.5 131.0 L322.6 129.8 L322.6 132.3 L322.7 130.8 L322.7 130.6 L322.8 132.2 L322.8 130.4 L322.9 131.0 L322.9 129.9 L322.9 132.3 L323.0 129.8 L323.1 130.2 L323.1 130.1 L323.2 132.3 L323.3 130.7 L323.3 131.0 L323.3 130.3 L323.4 132.3 L323.5 131.2 L323.5 130.1 L323.6 132.2 L323.6 129.8 L323.7 131.7 L323.7 130.9 L323.8 131.9 L323.9 129.9 L323.9 131.6 L323.9 131.9 L324.0 132.0 L324.1 129.8 L324.1 129.9 L324.2 129.8 L324.2 132.3 L324.3 132.1 L324.3 130.0 L324.3 129.9 L324.4 132.2 L324.5 131.9 L324.5 130.1 L324.5 132.3 L324.7 131.2 L324.7 131.7 L324.7 130.2 L324.8 131.7 L324.9 130.2 L324.9 130.3 L324.9 132.0 L325.1 130.5 L325.1 132.1 L325.2 130.0 L325.3 132.4 L325.3 132.1 L325.4 132.2 L325.5 130.0 L325.5 131.1 L325.5 131.2 L325.5 129.8 L325.7 131.8 L325.7 130.1 L325.7 131.8 L325.8 129.9 L325.9 132.0 L325.9 130.1 L325.9 130.0 L326.0 132.3 L326.1 130.2 L326.1 130.4 L326.3 130.4 L326.3 132.3 L326.3 130.2 L326.4 132.2 L326.5 130.2 L326.5 132.0 L326.6 129.8 L326.7 132.3 L326.7 131.5 L326.8 129.8 L326.9 132.3 L326.9 131.7 L326.9 129.8 L327.1 131.2 L327.1 129.9 L327.2 131.7 L327.3 129.9 L327.3 130.3 L327.3 130.1 L327.4 132.2 L327.4 129.8 L327.5 130.6 L327.5 129.8 L327.7 132.3 L327.7 131.2 L327.7 130.8 L327.7 129.9 L327.8 132.1 L327.9 130.1 L327.9 131.6 L327.9 132.5 L328.0 129.8 L328.1 130.3 L328.1 131.1 L328.1 131.9 L328.2 129.9 L328.3 131.6 L328.3 132.1 L328.4 129.9 L328.5 131.8 L328.5 132.3 L328.7 130.7 L328.7 131.3 L328.8 132.2 L328.9 130.3 L328.9 131.7 L328.9 130.5 L329.0 132.2 L329.1 130.1 L329.1 130.5 L329.1 131.1 L329.2 130.0 L329.2 131.5 L329.3 131.0 L329.3 132.0 L329.5 130.2 L329.5 130.4 L329.5 130.1 L329.6 129.8 L329.7 132.3 L329.7 131.1 L329.7 130.4 L329.7 132.2 L329.8 129.9 L329.9 130.8 L329.9 130.8 L330.0 130.4 L330.1 132.3 L330.1 132.2 L330.1 131.1 L330.2 129.9 L330.2 132.2 L330.3 131.5 L330.3 131.9 L330.4 130.6 L330.5 131.7 L330.5 131.3 L330.5 129.9 L330.7 132.2 L330.7 130.2 L330.9 132.1 L330.9 130.0 L330.9 132.1 L331.0 129.8 L331.1 131.5 L331.1 129.9 L331.2 132.3 L331.3 130.4 L331.3 130.1 L331.3 132.2 L331.4 130.0 L331.5 130.4 L331.5 131.4 L331.5 129.8 L331.7 131.9 L331.7 131.5 L331.7 131.0 L331.8 132.2 L331.8 129.9 L331.9 130.6 L331.9 130.6 L331.9 132.0 L332.1 129.8 L332.1 130.0 L332.2 132.0 L332.2 129.9 L332.3 130.7 L332.3 131.8 L332.4 130.1 L332.4 132.2 L332.5 130.4 L332.5 131.2 L332.7 132.0 L332.7 130.0 L332.7 131.9 L332.7 129.9 L332.8 132.0 L332.9 131.2 L332.9 130.4 L333.0 130.0 L333.1 131.2 L333.1 131.0 L333.1 131.4 L333.1 131.9 L333.2 130.0 L333.3 131.3 L333.3 129.9 L333.3 131.9 L333.4 129.8 L333.5 130.1 L333.5 131.1 L333.6 132.2 L333.6 129.9 L333.7 130.4 L333.7 130.1 L333.8 132.0 L333.9 130.9 L333.9 130.0 L333.9 130.0 L334.0 131.7 L334.1 130.7 L334.1 130.6 L334.2 132.0 L334.3 130.0 L334.3 131.5 L334.4 129.9 L334.5 132.2 L334.5 132.1 L334.5 130.5 L334.6 132.3 L334.7 131.1 L334.7 130.6 L334.7 132.3 L334.8 129.8 L334.9 130.6 L334.9 132.1 L335.0 132.3 L335.1 130.7 L335.1 131.4 L335.2 132.2 L335.2 129.9 L335.3 131.3 L335.3 132.0 L335.5 130.1 L335.5 130.7 L335.5 130.2 L335.6 132.3 L335.7 130.1 L335.7 131.5 L335.7 129.9 L335.8 132.2 L335.9 131.4 L335.9 131.7 L336.0 132.2 L336.1 130.0 L336.1 130.7 L336.2 130.2 L336.2 132.2 L336.3 132.0 L336.3 130.3 L336.3 131.9 L336.5 129.8 L336.5 130.4 L336.5 132.2 L336.5 132.2 L336.6 130.3 L336.7 130.8 L336.7 130.1 L336.8 132.1 L336.9 130.1 L336.9 129.9 L336.9 132.3 L337.1 132.0 L337.1 130.7 L337.1 132.3 L337.2 129.9 L337.3 131.5 L337.3 131.0 L337.3 132.1 L337.4 129.9 L337.5 131.3 L337.5 132.3 L337.6 130.0 L337.7 131.0 L337.7 130.9 L337.7 131.3 L337.8 129.8 L337.9 130.2 L337.9 130.0 L338.0 131.7 L338.1 131.6 L338.1 131.9 L338.2 132.2 L338.2 131.0 L338.3 131.2 L338.3 132.3 L338.3 130.1 L338.5 130.7 L338.5 131.9 L338.6 132.3 L338.7 129.9 L338.7 131.9 L338.7 130.5 L338.8 130.2 L338.9 132.0 L338.9 131.1 L338.9 130.1 L339.0 131.8 L339.1 130.9 L339.1 130.0 L339.2 129.9 L339.2 132.2 L339.3 132.1 L339.3 131.9 L339.4 129.9 L339.5 130.6 L339.5 130.8 L339.5 129.9 L339.6 132.0 L339.7 131.9 L339.7 131.7 L339.7 130.2 L339.8 132.0 L339.9 130.7 L339.9 130.6 L340.0 130.2 L340.0 131.4 L340.1 131.2 L340.1 130.3 L340.2 132.1 L340.2 129.8 L340.3 129.9 L340.3 130.9 L340.4 129.9 L340.5 132.0 L340.5 131.2 L340.5 129.9 L340.7 132.1 L340.7 131.9 L340.7 131.2 L340.7 130.1 L340.8 131.7 L340.9 130.4 L340.9 130.8 L341.0 132.2 L341.0 130.1 L341.1 131.8 L341.1 132.3 L341.3 129.9 L341.3 130.9 L341.3 132.1 L341.5 129.9 L341.5 130.4 L341.5 132.0 L341.6 133.2 L341.6 130.2 L341.7 130.2 L341.7 131.1 L341.8 130.0 L341.9 132.2 L341.9 131.0 L342.0 130.8 L342.0 132.2 L342.1 132.2 L342.1 130.9 L342.1 132.3 L342.2 129.8 L342.3 131.3 L342.3 131.8 L342.3 132.1 L342.4 130.1 L342.5 130.7 L342.5 130.8 L342.6 130.0 L342.6 132.2 L342.7 131.2 L342.7 131.6 L342.7 132.1 L342.8 130.0 L342.9 130.8 L342.9 130.9 L343.0 131.9 L343.1 130.4 L343.1 131.8 L343.1 130.2 L343.1 130.0 L343.2 132.2 L343.3 131.8 L343.3 129.2 L343.4 132.1 L343.5 130.3 L343.5 130.2 L343.5 129.8 L343.6 132.2 L343.7 131.0 L343.7 130.3 L343.8 129.9 L343.9 132.3 L343.9 132.0 L344.0 130.9 L344.1 131.6 L344.1 130.4 L344.2 130.1 L344.2 132.3 L344.3 130.8 L344.3 130.6 L344.4 131.8 L344.5 129.9 L344.5 130.7 L344.5 132.1 L344.7 130.0 L344.7 130.4 L344.7 130.0 L344.8 131.9 L344.9 131.7 L344.9 130.5 L345.0 130.3 L345.0 131.9 L345.1 131.0 L345.1 130.2 L345.1 132.3 L345.2 129.8 L345.3 131.3 L345.3 132.0 L345.4 129.8 L345.5 130.1 L345.5 132.3 L345.5 129.9 L345.7 130.4 L345.7 129.8 L345.8 132.3 L345.9 129.9 L345.9 132.1 L345.9 132.2 L346.0 129.8 L346.1 131.2 L346.1 130.0 L346.2 132.2 L346.3 131.5 L346.3 130.9 L346.4 131.8 L346.5 129.9 L346.5 130.9 L346.5 130.5 L346.5 129.9 L346.6 132.2 L346.7 130.1 L346.7 130.8 L346.8 131.6 L346.8 130.7 L346.9 131.2 L346.9 129.8 L346.9 132.2 L347.1 131.2 L347.1 129.8 L347.2 132.2 L347.3 130.8 L347.3 131.5 L347.5 130.3 L347.5 132.1 L347.5 131.8 L347.6 130.3 L347.6 131.9 L347.7 131.8 L347.7 132.1 L347.8 130.3 L347.9 130.6 L347.9 131.9 L348.1 129.8 L348.1 131.3 L348.1 131.7 L348.3 130.0 L348.3 132.2 L348.3 131.9 L348.3 130.5 L348.3 131.3 L348.4 129.9 L348.5 130.4 L348.5 129.9 L348.6 132.2 L348.7 130.8 L348.7 131.7 L348.8 131.9 L348.9 129.9 L348.9 130.8 L348.9 130.0 L349.0 132.1 L349.1 130.7 L349.1 130.9 L349.2 130.4 L349.3 132.2 L349.3 131.2 L349.3 132.0 L349.4 129.8 L349.4 129.9" stroke="#1f77b4" stroke-width="1.5" stroke-linecap="square"/>
</g>
<g stroke="#000" stroke-width="0.9">
<path d="M141.50 227.50v3.9"/>
<path d="M245.50 227.50v3.9"/>
<path d="M349.50 227.50v3.9"/>
<path d="M75.50 202.50h-3.5"/>
<path d="M75.50 140.50h-3.5"/>
<path d="M75.50 79.50h-3.5"/>
<path d="M75.50 18.50h-3.5"/>
</g>
<g font-size="17.3px" fill="#000">
<text x="125.69" y="249" font-size="17px">10</text><text x="148.49" y="242" font-size="12.3px">1</text>
<text x="230.06" y="249" font-size="17px">10</text><text x="252.86" y="242" font-size="12.3px">3</text>
<text x="334.44" y="249" font-size="17px">10</text><text x="357.24" y="242" font-size="12.3px">5</text>
<text x="66.9" y="209" text-anchor="end">540</text>
<text x="66.9" y="147" text-anchor="end">560</text>
<text x="66.9" y="86" text-anchor="end">580</text>
<text x="66.9" y="24" text-anchor="end">600</text>
</g>
<text x="218.6" y="273" text-anchor="middle" font-size="20px">Epoch</text>
<text transform="translate(26.3 121.9) rotate(-90)" text-anchor="middle" font-size="20px" fill="#1f77b4">Sharpness</text>
<rect x="75.50" y="11.50" width="287.00" height="216.00" fill="none" stroke="#000" stroke-width="0.9"/>
<rect x="250.30" y="17.40" width="106.50" height="60.60" rx="2.4" fill="#fff" fill-opacity="0.8" stroke="#ccc" stroke-opacity="0.8" stroke-width="1"/>
<path d="M255 28.00h24" stroke="#1f77b4" stroke-opacity="1" stroke-width="1.5" stroke-linecap="square"/>
<text x="288.7" y="32.00" font-size="12px" letter-spacing="0.1">Sharpness</text>
<path d="M255 47.00h24" stroke="#ff7f0e" stroke-opacity="0.5" stroke-width="1.5" stroke-linecap="square"/>
<text x="288.7" y="51.00" font-size="12px" letter-spacing="0.1">Valid acc</text>
<path d="M255 66.00h24" stroke="#d62728" stroke-opacity="0.5" stroke-width="1.5" stroke-linecap="square"/>
<text x="288.7" y="70.00" font-size="12px" letter-spacing="0.1">Train acc</text>
<g clip-path="url(#c)" fill="none" stroke-linejoin="round" stroke-width="1.5" stroke-linecap="square" stroke-opacity="0.5">
<path d="M60.0 197.5 L88.5 197.5 L104.2 197.5 L113.4 198.0 L119.9 197.0 L125.0 195.0 L129.1 194.2 L132.6 195.0 L135.6 197.0 L138.3 195.0 L140.7 202.5 L142.8 195.0 L144.8 197.0 L146.6 193.5 L148.3 197.5 L149.9 196.0 L151.3 195.5 L152.7 190.7 L154.0 196.0 L155.2 197.5 L156.4 195.0 L157.5 196.5 L158.6 195.5 L159.6 190.7 L160.5 196.0 L161.5 197.0 L162.3 193.0 L163.2 196.0 L164.0 207.5 L164.8 194.0 L165.6 203.0 L166.3 193.5 L167.0 197.6 L167.7 203.0 L168.4 197.5 L169.1 200.2 L169.7 201.0 L170.3 200.3 L170.9 203.7 L171.5 203.1 L172.1 192.6 L172.7 201.8 L173.2 197.4 L173.7 198.4 L174.3 197.6 L174.8 199.7 L175.3 199.5 L175.8 196.5 L176.2 195.4 L176.7 202.5 L177.2 194.5 L177.6 193.3 L178.1 202.0 L178.5 191.0 L178.9 190.3 L179.3 201.3 L179.7 198.8 L180.1 197.3 L180.5 189.5 L180.9 205.1 L181.3 198.8 L181.7 201.3 L182.0 194.6 L182.4 198.9 L182.8 192.9 L183.1 193.0 L183.5 197.0 L183.8 194.2 L184.1 198.1 L184.5 193.2 L184.8 196.3 L185.1 195.3 L185.4 195.8 L185.7 200.4 L186.1 198.0 L186.4 201.4 L186.7 193.2 L187.0 194.0 L187.2 189.3 L187.5 194.0 L187.8 202.2 L188.1 200.1 L188.4 198.2 L188.7 200.7 L188.9 202.6 L189.2 195.3 L189.5 195.2 L189.7 192.2 L190.0 200.7 L190.2 197.6 L190.5 200.9 L190.7 195.5 L191.0 198.6 L191.2 196.5 L191.5 193.8 L191.7 203.1 L192.0 206.0 L192.2 193.5 L192.4 195.5 L192.6 198.8 L192.9 205.6 L193.1 192.1 L193.3 189.4 L193.5 189.1 L193.8 199.3 L194.0 201.4 L194.2 193.8 L194.4 189.1 L194.6 203.2 L194.8 193.7 L195.0 189.5 L195.2 192.5 L195.4 204.7 L195.6 192.5 L195.8 195.5 L196.0 190.9 L196.2 204.9 L196.4 198.7 L196.6 192.9 L196.8 193.6 L197.0 197.2 L197.2 205.4 L197.4 187.7 L197.6 195.0 L197.8 204.6 L197.9 196.3 L198.1 189.7 L198.3 191.8 L198.5 202.2 L198.6 200.6 L198.8 203.0 L199.0 201.6 L199.2 194.2 L199.3 199.3 L199.5 195.4 L199.7 191.4 L199.8 188.2 L200.0 195.1 L200.2 202.8 L200.3 202.1 L200.5 190.4 L200.7 194.5 L200.8 192.3 L201.0 195.6 L201.1 198.7 L201.3 188.7 L201.5 203.6 L201.6 200.4 L201.8 205.5 L201.9 189.1 L202.1 192.2 L202.2 186.6 L202.4 198.9 L202.5 190.4 L202.7 186.3 L202.8 188.9 L203.0 187.9 L203.1 188.3 L203.2 193.9 L203.4 198.6 L203.5 194.6 L203.7 205.8 L203.8 200.7 L203.9 195.6 L204.1 201.6 L204.2 205.0 L204.4 189.5 L204.5 196.7 L204.6 187.5 L204.8 191.1 L204.9 194.1 L205.0 186.4 L205.2 189.0 L205.3 192.9 L205.4 186.5 L205.6 191.9 L205.7 198.4 L205.8 190.3 L205.9 196.3 L206.1 200.0 L206.2 205.3 L206.3 187.1 L206.4 202.3 L206.6 197.7 L206.7 205.0 L206.8 194.2 L206.9 204.4 L207.1 185.1 L207.2 197.2 L207.3 192.8 L207.4 186.3 L207.5 198.0 L207.7 192.8 L207.8 203.2 L207.9 188.5 L208.0 186.6 L208.1 186.9 L208.2 193.2 L208.4 194.2 L208.5 206.3 L208.6 200.7 L208.7 202.8 L208.8 183.1 L208.9 202.3 L209.0 200.3 L209.1 200.0 L209.3 203.1 L209.4 185.0 L209.5 187.2 L209.6 194.7 L209.7 195.4 L209.8 184.0 L209.9 186.2 L210.0 191.6 L210.1 197.3 L210.2 186.1 L210.3 197.9 L210.4 183.5 L210.5 183.0 L210.6 196.6 L210.7 192.3 L210.8 194.9 L211.0 196.6 L211.1 195.2 L211.2 196.5 L211.3 198.3 L211.4 192.8 L211.5 197.6 L211.6 203.3 L211.7 195.9 L211.8 199.0 L211.9 199.0 L211.9 201.2 L212.0 201.2 L212.1 189.2 L212.2 190.9 L212.3 201.2 L212.4 189.0 L212.5 189.9 L212.6 181.1 L212.7 198.6 L212.8 193.3 L212.9 192.9 L213.1 183.6 L213.2 192.0 L213.3 200.7 L213.4 184.7 L213.5 182.6 L213.6 188.8 L213.6 183.3 L213.7 195.9 L213.8 187.3 L213.9 194.4 L214.1 187.4 L214.2 187.9 L214.3 182.2 L214.4 183.8 L214.4 177.8 L214.5 185.2 L214.6 176.6 L214.7 175.6 L214.8 174.9 L214.9 182.9 L215.0 185.4 L215.0 177.0 L215.1 183.6 L215.2 184.2 L215.3 180.1 L215.4 184.7 L215.5 178.0 L215.6 171.3 L215.6 171.4 L215.7 176.3 L215.8 181.2 L215.9 172.7 L216.0 179.6 L216.0 172.5 L216.1 180.0 L216.3 166.9 L216.4 175.6 L216.5 166.9 L216.5 168.0 L216.6 168.3 L216.7 166.5 L216.8 170.6 L216.9 166.2 L216.9 171.5 L217.0 165.1 L217.1 168.6 L217.2 172.0 L217.2 158.3 L217.3 160.1 L217.4 156.1 L217.5 168.4 L217.5 168.0 L217.6 170.0 L217.7 160.6 L217.9 164.6 L217.9 157.9 L218.0 166.3 L218.1 148.6 L218.2 163.3 L218.2 153.7 L218.3 155.5 L218.4 139.2 L218.5 147.0 L218.6 151.8 L218.7 136.1 L218.7 159.5 L218.8 146.8 L218.9 160.6 L219.0 157.8 L219.0 132.4 L219.1 137.0 L219.2 142.3 L219.2 144.7 L219.3 135.1 L219.5 129.8 L219.5 127.9 L219.6 141.2 L219.7 132.0 L219.7 136.0 L219.9 122.7 L219.9 124.2 L220.0 133.3 L220.1 124.9 L220.1 141.6 L220.2 139.8 L220.3 144.1 L220.3 118.5 L220.5 131.5 L220.5 125.7 L220.6 117.2 L220.7 135.1 L220.7 134.5 L220.8 130.1 L220.9 137.1 L220.9 130.8 L221.1 107.9 L221.1 108.0 L221.2 107.1 L221.3 116.5 L221.3 126.0 L221.4 118.5 L221.5 131.5 L221.5 99.7 L221.7 122.8 L221.7 112.6 L221.8 127.2 L221.8 102.2 L221.9 114.8 L222.0 98.5 L222.1 106.5 L222.2 88.8 L222.2 106.4 L222.3 92.1 L222.3 103.1 L222.5 88.0 L222.5 120.5 L222.6 113.0 L222.7 118.5 L222.7 103.9 L222.8 111.6 L222.8 85.7 L222.9 95.4 L223.0 100.6 L223.0 79.4 L223.1 84.9 L223.1 84.8 L223.2 112.9 L223.3 83.1 L223.3 114.4 L223.4 82.4 L223.5 90.9 L223.5 101.6 L223.6 110.5 L223.7 82.8 L223.7 86.4 L223.8 103.7 L223.8 73.0 L223.9 103.2 L224.0 80.5 L224.1 95.4 L224.1 82.2 L224.2 100.3 L224.3 91.4 L224.4 74.2 L224.4 98.7 L224.5 90.2 L224.5 78.5 L224.6 75.6 L224.7 81.2 L224.7 81.8 L224.8 64.7 L224.9 77.6 L224.9 67.0 L225.0 89.8 L225.1 79.2 L225.1 77.1 L225.2 66.2 L225.3 72.2 L225.3 84.0 L225.4 60.7 L225.5 81.6 L225.5 73.6 L225.6 70.6 L225.6 80.8 L225.7 76.2 L225.7 65.5 L225.8 77.4 L225.9 59.0 L225.9 76.8 L226.1 63.9 L226.1 63.9 L226.2 69.8 L226.2 64.4 L226.3 67.6 L226.4 71.8 L226.5 56.1 L226.5 65.5 L226.6 60.6 L226.7 70.6 L226.7 69.4 L226.8 56.6 L226.9 56.6 L226.9 59.1 L227.0 66.0 L227.1 61.7 L227.1 69.4 L227.2 52.9 L227.3 66.4 L227.3 53.8 L227.4 70.7 L227.5 70.4 L227.5 68.0 L227.6 70.0 L227.7 45.4 L227.7 58.5 L227.8 45.5 L227.9 61.4 L227.9 48.5 L228.0 44.9 L228.0 69.9 L228.1 64.5 L228.1 42.5 L228.2 54.2 L228.3 46.6 L228.3 50.9 L228.4 38.1 L228.5 61.8 L228.5 61.6 L228.6 67.0 L228.7 52.0 L228.7 65.0 L228.8 66.9 L228.9 32.7 L228.9 32.0 L229.0 62.0 L229.1 31.4 L229.1 30.7 L229.2 50.3 L229.3 31.0 L229.3 60.5 L229.4 29.9 L229.5 61.6 L229.5 47.8 L229.6 31.0 L229.7 55.5 L229.7 35.1 L229.8 59.7 L229.9 43.4 L229.9 58.0 L230.0 59.8 L230.1 29.6 L230.1 37.3 L230.2 49.5 L230.3 29.5 L230.3 57.5 L230.4 29.1 L230.5 32.1 L230.5 27.4 L230.6 27.2 L230.6 55.6 L230.7 43.7 L230.7 28.8 L230.8 33.8 L230.8 26.8 L230.9 28.8 L230.9 29.7 L231.0 29.1 L231.0 32.6 L231.1 31.1 L231.1 37.8 L231.2 41.2 L231.2 27.9 L231.3 35.2 L231.3 26.7 L231.3 26.6 L231.4 30.1 L231.5 28.7 L231.5 30.9 L231.6 27.7 L231.7 34.4 L231.7 32.8 L231.8 26.3 L231.9 50.9 L231.9 27.8 L232.0 52.5 L232.0 25.8 L232.1 33.8 L232.1 27.3 L232.2 45.4 L232.2 25.4 L232.3 36.1 L232.3 26.9 L232.4 25.4 L232.4 49.3 L232.5 33.7 L232.5 25.2 L232.6 30.9 L232.7 25.5 L232.7 25.0 L232.8 33.3 L232.8 25.0 L232.9 27.4 L232.9 26.9 L233.0 25.9 L233.1 34.4 L233.1 31.4 L233.1 31.4 L233.2 26.3 L233.3 31.1 L233.3 28.5 L233.4 40.2 L233.4 24.9 L233.5 30.1 L233.5 25.6 L233.6 25.0 L233.7 35.8 L233.7 25.1 L233.7 29.0 L233.8 25.0 L233.9 25.8 L233.9 32.0 L234.0 24.9 L234.1 34.4 L234.1 27.1 L234.2 24.9 L234.3 29.0 L234.3 29.7 L234.3 33.5 L234.4 26.6 L234.5 28.5 L234.5 25.7 L234.6 24.8 L234.6 30.8 L234.7 26.0 L234.7 28.9 L234.7 25.3 L234.9 25.9 L234.9 24.7 L235.0 30.3 L235.1 27.6 L235.1 25.2 L235.2 27.0 L235.3 25.0 L235.3 24.4 L235.4 30.5 L235.5 25.5 L235.5 24.7 L235.6 27.3 L235.7 24.9 L235.7 24.7 L235.7 29.6 L235.8 24.4 L235.9 26.1 L235.9 24.6 L236.0 28.6 L236.1 24.3 L236.1 27.6 L236.2 24.4 L236.3 26.8 L236.3 24.7 L236.4 26.1 L236.5 24.0 L236.5 25.3 L236.5 26.0 L236.6 26.3 L236.7 24.1 L236.7 25.4 L236.7 24.4 L236.8 26.8 L236.9 24.5 L236.9 23.5 L236.9 22.0 L237.0 25.8 L237.1 25.1 L237.1 25.7 L237.3 23.5 L237.3 25.1 L237.4 25.5 L237.5 21.7 L237.5 21.1 L237.6 24.9 L237.7 22.0 L237.7 24.6 L237.7 25.3 L237.8 24.1 L237.9 24.2 L237.9 24.0 L237.9 21.1 L238.0 24.7 L238.1 24.2 L238.1 23.8 L238.2 24.7 L238.3 24.4 L238.3 23.2 L238.5 25.8 L238.5 25.0 L238.5 21.9 L238.5 21.1 L238.7 24.7 L238.7 24.5 L238.7 24.6 L238.8 22.1 L238.9 25.9 L238.9 22.1 L239.0 21.3 L239.1 25.5 L239.1 22.9 L239.1 24.5 L239.3 23.9 L239.3 24.1 L239.5 21.1 L239.5 23.9 L239.5 23.7 L239.6 26.5 L239.7 22.5 L239.7 23.2 L239.7 24.3 L239.9 23.0 L239.9 26.6 L239.9 26.3 L240.0 27.6 L240.1 23.8 L240.1 26.7 L240.1 23.2 L240.3 23.2 L240.3 23.6 L240.5 26.1 L240.5 21.5 L240.5 24.2 L240.6 26.1 L240.6 21.4 L240.7 23.8 L240.7 26.3 L240.9 21.0 L240.9 27.4 L241.1 23.8 L241.1 24.5 L241.1 21.4 L241.2 26.7 L241.3 22.3 L241.3 24.8 L241.3 21.4 L241.4 24.9 L241.5 23.0 L241.5 26.0 L241.6 26.2 L241.7 23.2 L241.7 23.1 L241.8 27.3 L241.9 23.5 L241.9 25.6 L242.0 22.9 L242.1 26.6 L242.1 21.7 L242.1 24.6 L242.3 22.3 L242.3 26.4 L242.4 22.5 L242.5 25.2 L242.5 21.1 L242.6 26.9 L242.7 22.2 L242.7 26.5 L242.8 22.2 L242.8 26.6 L242.9 23.7 L242.9 22.7 L243.0 27.4 L243.1 21.7 L243.1 22.0 L243.2 25.9 L243.3 21.4 L243.3 25.6 L243.4 21.1 L243.5 26.6 L243.5 27.0 L243.6 21.5 L243.7 25.2 L243.7 23.0 L243.8 26.5 L243.8 21.3 L243.9 26.3 L243.9 25.3 L244.0 21.4 L244.0 27.0 L244.1 24.1 L244.1 23.0 L244.3 26.9 L244.3 26.8 L244.3 27.0 L244.3 27.1 L244.4 21.6 L244.5 26.0 L244.5 27.5 L244.6 22.7 L244.7 25.3 L244.7 21.1 L244.7 25.4 L244.9 23.0 L244.9 26.1 L245.0 26.4 L245.0 21.3 L245.1 22.8 L245.1 26.0 L245.2 26.9 L245.2 21.6 L245.3 24.0 L245.3 23.0 L245.3 22.1 L245.4 27.0 L245.5 22.6 L245.5 27.0 L245.6 21.6 L245.7 25.7 L245.7 25.9 L245.7 22.0 L245.8 27.8 L245.9 24.1 L245.9 26.9 L246.0 27.1 L246.1 22.4 L246.1 22.5 L246.1 23.9 L246.2 21.4 L246.3 27.0 L246.3 25.3 L246.3 24.6 L246.3 21.5 L246.4 26.3 L246.5 22.2 L246.5 22.9 L246.6 26.7 L246.6 21.8 L246.7 23.7 L246.7 21.8 L246.7 21.1 L246.8 27.7 L246.9 23.1 L246.9 22.5 L247.0 25.9 L247.1 24.5 L247.1 24.9 L247.1 21.9 L247.2 27.7 L247.3 25.5 L247.3 22.6 L247.3 26.4 L247.4 21.8 L247.5 25.0 L247.5 23.3 L247.6 23.2 L247.6 26.9 L247.7 25.5 L247.7 24.8 L247.8 22.9 L247.8 26.5 L247.9 23.2 L247.9 23.7 L248.0 27.7 L248.0 21.0 L248.1 23.3 L248.1 23.8 L248.2 22.1 L248.3 26.8 L248.3 25.4 L248.3 25.6 L248.3 22.0 L248.5 27.5 L248.5 21.8 L248.6 26.7 L248.7 21.6 L248.7 23.4 L248.8 26.7 L248.8 21.6 L248.9 24.4 L248.9 23.2 L249.0 21.3 L249.1 26.5 L249.1 23.5 L249.1 23.2 L249.1 25.5 L249.2 21.3 L249.3 24.8 L249.3 26.5 L249.4 21.2 L249.5 23.5 L249.5 27.6 L249.6 21.3 L249.7 21.3 L249.7 26.7 L249.8 21.6 L249.9 25.5 L249.9 25.7 L249.9 21.2 L249.9 26.3 L250.1 25.8 L250.1 26.0 L250.1 27.7 L250.2 22.3 L250.3 24.6 L250.3 21.2 L250.5 26.9 L250.5 25.1 L250.6 26.6 L250.6 21.7 L250.7 23.2 L250.7 22.0 L250.9 21.7 L250.9 26.1 L250.9 24.1 L250.9 25.3 L251.0 21.4 L251.1 24.8 L251.1 24.0 L251.2 22.0 L251.3 26.5 L251.3 25.7 L251.3 23.0 L251.4 26.5 L251.4 21.6 L251.5 22.4 L251.5 22.8 L251.6 22.4 L251.7 26.0 L251.7 23.1 L251.7 25.6 L251.7 26.4 L251.8 21.8 L251.9 25.5 L251.9 26.5 L251.9 22.6 L252.1 27.4 L252.1 25.9 L252.1 22.1 L252.1 27.6 L252.1 21.0 L252.3 27.2 L252.3 23.4 L252.4 21.2 L252.4 26.5 L252.5 22.8 L252.5 27.1 L252.6 22.0 L252.7 25.6 L252.7 25.4 L252.8 26.4 L252.8 21.2 L252.9 23.9 L252.9 22.6 L252.9 27.1 L253.0 22.1 L253.1 26.4 L253.1 23.6 L253.2 21.4 L253.3 25.4 L253.3 24.7 L253.3 24.2 L253.4 25.9 L253.4 21.3 L253.5 22.1 L253.5 22.5 L253.5 26.2 L253.6 21.3 L253.7 23.6 L253.7 26.3 L253.9 21.5 L253.9 25.0 L253.9 24.8 L253.9 27.5 L254.0 22.3 L254.1 23.8 L254.1 21.1 L254.1 26.3 L254.3 22.6 L254.3 25.9 L254.4 21.8 L254.5 26.3 L254.5 26.3 L254.5 22.0 L254.6 27.6 L254.7 22.2 L254.7 22.6 L254.7 22.5 L254.8 26.7 L254.9 23.7 L254.9 22.8 L255.1 21.4 L255.1 25.9 L255.1 25.5 L255.1 21.6 L255.3 26.4 L255.3 24.6 L255.3 23.0 L255.3 21.3 L255.4 25.9 L255.5 22.7 L255.5 24.9 L255.5 26.0 L255.6 21.2 L255.7 25.6 L255.7 27.0 L255.9 21.1 L255.9 22.2 L255.9 25.9 L256.1 21.3 L256.1 26.6 L256.1 26.1 L256.2 22.8 L256.3 26.5 L256.3 26.2 L256.3 22.8 L256.5 21.2 L256.5 25.8 L256.5 22.1 L256.6 21.1 L256.7 26.1 L256.7 25.5 L256.9 21.4 L256.9 22.6 L256.9 26.4 L257.0 22.8 L257.1 23.8 L257.1 21.5 L257.2 21.0 L257.3 26.0 L257.3 24.6 L257.3 23.7 L257.4 26.4 L257.4 21.5 L257.5 22.7 L257.5 22.7 L257.5 21.1 L257.7 25.5 L257.7 22.1 L257.7 25.1 L257.8 25.9 L257.8 21.3 L257.9 23.6 L257.9 24.1 L258.0 21.2 L258.1 26.9 L258.1 21.4 L258.1 25.8 L258.1 21.5 L258.3 26.4 L258.3 24.7 L258.3 24.1 L258.4 27.4 L258.5 21.3 L258.5 22.7 L258.6 26.5 L258.7 21.6 L258.7 21.9 L258.7 22.6 L258.7 21.3 L258.9 27.2 L258.9 22.9 L259.0 27.5 L259.1 21.2 L259.1 21.3 L259.1 25.4 L259.2 22.1 L259.2 26.0 L259.3 23.1 L259.3 21.0 L259.4 26.4 L259.5 24.3 L259.5 25.5 L259.5 21.4 L259.6 26.2 L259.7 25.8 L259.7 22.2 L259.8 26.3 L259.8 21.4 L259.9 23.8 L259.9 21.5 L259.9 24.9 L260.1 23.2 L260.1 24.3 L260.1 21.5 L260.2 26.4 L260.3 23.8 L260.3 22.4 L260.4 21.1 L260.4 26.3 L260.5 24.1 L260.5 22.7 L260.6 21.3 L260.7 26.7 L260.7 26.2 L260.9 21.7 L260.9 23.2 L260.9 25.5 L261.0 21.6 L261.0 26.6 L261.1 24.0 L261.1 26.2 L261.1 21.7 L261.3 25.9 L261.3 23.7 L261.4 26.3 L261.4 21.7 L261.5 25.2 L261.5 23.0 L261.6 21.4 L261.7 26.1 L261.7 22.4 L261.7 21.5 L261.7 21.2 L261.9 26.4 L261.9 26.2 L261.9 24.1 L262.0 26.4 L262.0 21.1 L262.1 21.8 L262.1 23.6 L262.2 26.3 L262.2 21.3 L262.3 24.6 L262.3 22.5 L262.4 21.0 L262.4 26.6 L262.5 23.9 L262.5 25.9 L262.7 26.5 L262.7 21.6 L262.7 26.0 L262.7 21.6 L262.8 26.3 L262.9 21.6 L262.9 26.5 L262.9 27.1 L263.0 21.4 L263.1 24.0 L263.1 26.0 L263.1 26.3 L263.3 21.3 L263.3 22.8 L263.3 23.0 L263.4 26.2 L263.5 21.6 L263.5 25.8 L263.5 21.4 L263.5 21.1 L263.7 25.7 L263.7 24.5 L263.7 21.6 L263.9 26.2 L263.9 23.2 L263.9 25.8 L263.9 21.4 L264.0 26.8 L264.1 23.0 L264.1 23.9 L264.1 21.0 L264.2 26.2 L264.3 22.9 L264.3 21.2 L264.4 26.4 L264.5 24.0 L264.5 25.0 L264.6 21.5 L264.7 25.9 L264.7 23.2 L264.8 26.5 L264.8 21.2 L264.9 21.6 L264.9 23.5 L264.9 21.0 L265.0 26.0 L265.1 22.4 L265.1 23.0 L265.2 27.1 L265.2 21.1 L265.3 26.1 L265.3 23.1 L265.4 21.1 L265.4 27.1 L265.5 25.9 L265.5 25.0 L265.5 21.5 L265.6 26.3 L265.7 23.2 L265.7 26.1 L265.8 26.2 L265.9 21.1 L265.9 25.3 L265.9 23.7 L266.0 21.1 L266.0 26.2 L266.1 25.4 L266.1 24.1 L266.1 26.0 L266.3 21.1 L266.3 22.8 L266.3 22.4 L266.3 21.5 L266.5 26.1 L266.5 22.7 L266.5 21.3 L266.6 21.1 L266.6 27.3 L266.7 23.4 L266.7 22.0 L266.8 27.1 L266.8 21.0 L266.9 22.7 L266.9 23.1 L266.9 26.7 L267.0 21.1 L267.1 24.5 L267.1 26.8 L267.2 21.1 L267.3 25.2 L267.3 26.2 L267.3 21.0 L267.5 26.7 L267.5 26.5 L267.5 23.7 L267.6 21.0 L267.7 26.5 L267.7 22.3 L267.7 27.1 L267.9 21.1 L267.9 24.2 L268.1 26.9 L268.1 21.3 L268.1 24.3 L268.1 26.6 L268.3 21.1 L268.3 25.6 L268.4 21.3 L268.4 26.9 L268.5 26.0 L268.5 24.3 L268.5 21.0 L268.6 26.7 L268.7 25.2 L268.7 21.4 L268.7 25.7 L268.9 22.1 L268.9 24.4 L269.0 26.9 L269.0 21.3 L269.1 23.8 L269.1 23.2 L269.2 21.2 L269.2 26.2 L269.3 22.2 L269.3 24.5 L269.4 21.3 L269.5 26.2 L269.5 25.5 L269.5 23.2 L269.7 21.0 L269.7 26.2 L269.7 23.5 L269.7 26.1 L269.9 21.5 L269.9 22.8 L269.9 26.1 L270.0 21.4 L270.0 26.1 L270.1 25.7 L270.1 26.0 L270.2 26.2 L270.3 21.1 L270.3 22.6 L270.3 24.7 L270.4 21.4 L270.5 26.4 L270.5 22.9 L270.5 24.3 L270.5 26.1 L270.6 22.3 L270.7 24.6 L270.7 26.4 L270.8 21.4 L270.9 25.9 L270.9 26.2 L271.1 22.1 L271.1 26.1 L271.1 24.5 L271.2 21.1 L271.3 26.1 L271.3 24.6 L271.4 21.5 L271.5 26.1 L271.5 25.0 L271.5 21.0 L271.6 26.3 L271.7 23.2 L271.7 22.3 L271.8 25.7 L271.8 21.7 L271.9 23.6 L271.9 24.6 L271.9 21.1 L272.0 26.5 L272.1 25.2 L272.1 22.4 L272.2 21.3 L272.2 25.8 L272.3 24.3 L272.3 25.6 L272.5 22.6 L272.5 26.0 L272.5 25.3 L272.5 21.1 L272.6 25.7 L272.7 21.5 L272.7 22.3 L272.8 25.7 L272.9 21.3 L272.9 21.6 L273.1 26.1 L273.1 21.5 L273.1 24.8 L273.2 21.2 L273.3 25.5 L273.3 22.5 L273.3 25.4 L273.3 26.2 L273.4 21.1 L273.5 21.6 L273.5 25.5 L273.5 26.2 L273.5 21.2 L273.7 25.8 L273.7 23.1 L273.8 22.0 L273.8 26.0 L273.9 23.5 L273.9 25.3 L273.9 25.9 L274.1 21.0 L274.1 22.2 L274.1 25.0 L274.2 26.1 L274.3 21.1 L274.3 23.9 L274.3 21.2 L274.4 25.6 L274.5 22.6 L274.5 21.4 L274.5 25.9 L274.6 21.2 L274.7 22.9 L274.7 25.6 L274.8 25.9 L274.8 21.3 L274.9 23.8 L274.9 21.9 L274.9 21.0 L275.0 26.2 L275.1 25.5 L275.1 25.9 L275.1 22.1 L275.2 26.1 L275.3 22.2 L275.3 24.0 L275.3 25.5 L275.4 21.1 L275.5 22.8 L275.5 23.6 L275.6 25.8 L275.7 21.2 L275.7 22.5 L275.7 26.2 L275.7 21.3 L275.9 23.6 L275.9 23.6 L276.0 26.1 L276.1 21.2 L276.1 25.2 L276.1 22.5 L276.2 24.6 L276.3 21.5 L276.3 21.9 L276.3 24.0 L276.3 22.0 L276.5 25.8 L276.5 23.0 L276.5 23.8 L276.6 25.1 L276.6 21.0 L276.7 21.6 L276.7 25.0 L276.8 25.5 L276.9 21.9 L276.9 24.9 L276.9 25.8 L277.0 25.8 L277.1 21.1 L277.1 22.5 L277.1 22.6 L277.1 26.1 L277.3 21.5 L277.3 25.4 L277.3 24.3 L277.5 21.1 L277.5 26.4 L277.5 24.0 L277.6 25.5 L277.6 21.7 L277.7 24.5 L277.7 22.3 L277.7 21.2 L277.9 24.8 L277.9 23.1 L277.9 24.1 L277.9 21.1 L278.0 26.2 L278.1 22.0 L278.1 21.4 L278.2 25.2 L278.3 22.4 L278.3 24.0 L278.3 21.2 L278.4 26.5 L278.5 26.0 L278.5 24.3 L278.5 26.7 L278.6 21.9 L278.7 25.3 L278.7 23.7 L278.8 21.3 L278.8 26.2 L278.9 25.1 L278.9 25.9 L279.0 21.6 L279.1 25.6 L279.1 21.1 L279.2 24.4 L279.3 21.2 L279.3 23.7 L279.5 25.8 L279.5 22.9 L279.5 25.4 L279.5 21.3 L279.6 26.1 L279.7 24.0 L279.7 24.2 L279.7 21.7 L279.8 26.0 L279.9 24.7 L279.9 24.7 L280.0 25.6 L280.0 22.0 L280.1 24.7 L280.1 22.0 L280.2 21.1 L280.3 25.8 L280.3 24.2 L280.4 26.1 L280.4 21.1 L280.5 25.2 L280.5 25.3 L280.6 22.0 L280.7 26.1 L280.7 25.4 L280.7 22.0 L280.7 26.0 L280.8 22.0 L280.9 23.7 L280.9 24.0 L281.0 25.7 L281.1 21.3 L281.1 21.2 L281.2 25.6 L281.3 23.9 L281.3 22.8 L281.3 26.3 L281.4 21.3 L281.5 21.4 L281.5 25.5 L281.6 21.8 L281.7 22.8 L281.7 25.6 L281.7 21.2 L281.9 25.7 L281.9 22.6 L281.9 21.5 L282.0 21.5 L282.1 26.6 L282.1 25.3 L282.2 21.1 L282.3 25.6 L282.3 21.6 L282.3 23.2 L282.4 21.1 L282.4 25.9 L282.5 23.6 L282.5 23.2 L282.6 25.9 L282.7 22.0 L282.7 23.0 L282.7 25.1 L282.8 22.9 L282.9 25.6 L282.9 24.2 L283.0 26.4 L283.0 21.4 L283.1 24.6 L283.1 22.8 L283.2 21.7 L283.3 25.1 L283.3 22.6 L283.3 21.2 L283.3 26.0 L283.4 21.2 L283.5 21.8 L283.5 25.8 L283.5 26.2 L283.6 21.5 L283.7 23.7 L283.7 25.6 L283.8 21.0 L283.9 22.3 L283.9 21.4 L284.0 25.5 L284.1 21.4 L284.1 25.5 L284.2 21.9 L284.3 22.1 L284.3 25.5 L284.4 26.3 L284.5 22.3 L284.5 22.4 L284.5 24.1 L284.5 21.2 L284.6 26.2 L284.7 23.4 L284.7 21.9 L284.7 25.4 L284.8 21.2 L284.9 22.2 L284.9 25.3 L285.0 22.3 L285.1 24.7 L285.1 25.1 L285.3 21.2 L285.3 23.1 L285.3 21.3 L285.5 26.1 L285.5 21.5 L285.5 21.3 L285.6 25.8 L285.6 21.1 L285.7 21.8 L285.7 25.4 L285.8 21.1 L285.9 25.6 L285.9 21.8 L285.9 21.9 L285.9 21.8 L286.0 26.1 L286.1 25.8 L286.1 21.6 L286.2 24.7 L286.3 21.6 L286.3 23.3 L286.4 26.2 L286.4 21.1 L286.5 24.3 L286.5 22.8 L286.6 25.8 L286.7 21.6 L286.7 23.8 L286.7 23.7 L286.7 22.9 L286.9 26.3 L286.9 24.6 L286.9 21.4 L287.0 25.5 L287.1 23.6 L287.1 24.3 L287.2 21.3 L287.3 26.1 L287.3 23.4 L287.3 23.8 L287.4 26.0 L287.4 22.6 L287.5 22.9 L287.5 25.5 L287.6 21.0 L287.7 21.5 L287.7 25.0 L287.8 26.0 L287.9 21.3 L287.9 22.3 L288.0 26.1 L288.0 21.2 L288.1 24.1 L288.1 26.0 L288.2 26.0 L288.2 21.1 L288.3 24.0 L288.3 23.9 L288.4 26.0 L288.4 21.1 L288.5 23.4 L288.5 24.3 L288.5 21.3 L288.6 26.3 L288.7 25.6 L288.7 23.6 L288.8 25.2 L288.9 22.5 L288.9 23.8 L288.9 21.7 L289.0 25.9 L289.1 21.9 L289.1 24.1 L289.2 24.8 L289.2 21.1 L289.3 24.7 L289.3 23.7 L289.4 26.1 L289.5 21.6 L289.5 21.0 L289.6 25.2 L289.7 23.5 L289.7 22.2 L289.7 21.2 L289.8 25.9 L289.9 25.8 L289.9 23.0 L289.9 21.5 L290.0 25.5 L290.1 25.0 L290.1 23.8 L290.2 26.2 L290.2 21.1 L290.3 23.9 L290.3 26.1 L290.5 21.7 L290.5 24.9 L290.5 24.1 L290.5 26.2 L290.6 21.8 L290.7 24.0 L290.7 22.9 L290.7 21.2 L290.8 24.5 L290.9 23.1 L290.9 25.7 L291.1 21.1 L291.1 22.5 L291.1 25.3 L291.2 21.2 L291.2 26.0 L291.3 25.8 L291.3 21.7 L291.5 25.3 L291.5 22.5 L291.5 26.1 L291.6 21.7 L291.7 22.4 L291.7 24.8 L291.9 26.0 L291.9 22.3 L291.9 21.3 L292.0 26.0 L292.1 21.0 L292.1 25.8 L292.2 21.6 L292.3 23.4 L292.3 21.5 L292.4 25.5 L292.5 24.6 L292.5 23.7 L292.6 26.1 L292.6 21.2 L292.7 21.3 L292.7 24.5 L292.8 25.9 L292.8 21.3 L292.9 25.7 L292.9 24.1 L292.9 25.8 L293.0 22.3 L293.1 25.0 L293.1 22.5 L293.2 25.0 L293.2 21.4 L293.3 24.4 L293.3 25.5 L293.4 26.0 L293.5 21.3 L293.5 22.5 L293.5 21.2 L293.6 25.4 L293.7 25.3 L293.7 22.0 L293.7 25.2 L293.7 21.3 L293.9 25.1 L293.9 26.2 L294.0 21.5 L294.1 25.5 L294.1 25.7 L294.2 21.4 L294.3 25.6 L294.3 22.0 L294.3 21.6 L294.4 26.1 L294.5 21.9 L294.5 22.4 L294.5 26.0 L294.6 21.3 L294.7 23.0 L294.7 25.2 L294.8 26.0 L294.9 21.2 L294.9 25.5 L294.9 24.9 L295.0 21.4 L295.1 26.0 L295.1 25.0 L295.1 25.5 L295.2 21.1 L295.3 25.0 L295.3 24.8 L295.3 21.9 L295.4 25.7 L295.5 22.1 L295.5 23.3 L295.6 21.0 L295.6 25.6 L295.7 24.3 L295.7 23.2 L295.8 25.5 L295.9 23.8 L295.9 22.8 L295.9 21.8 L296.1 26.2 L296.1 22.5 L296.2 25.8 L296.3 21.0 L296.3 23.6 L296.3 22.7 L296.4 25.6 L296.5 22.3 L296.5 23.2 L296.5 26.2 L296.7 21.2 L296.7 24.1 L296.7 22.0 L296.8 26.2 L296.8 21.7 L296.9 24.1 L296.9 22.7 L297.0 26.0 L297.0 21.9 L297.1 23.0 L297.1 25.8 L297.3 21.3 L297.3 22.7 L297.3 25.9 L297.4 21.6 L297.5 23.8 L297.5 21.7 L297.6 21.2 L297.7 25.9 L297.7 23.7 L297.7 24.0 L297.8 21.0 L297.9 25.7 L297.9 22.1 L298.0 25.8 L298.1 25.3 L298.1 24.7 L298.2 21.1 L298.3 25.9 L298.3 22.8 L298.3 24.2 L298.3 26.3 L298.4 21.0 L298.5 25.7 L298.5 25.8 L298.7 21.3 L298.7 25.9 L298.8 26.0 L298.8 22.1 L298.9 22.1 L298.9 24.3 L299.0 22.0 L299.0 26.1 L299.1 23.7 L299.1 24.0 L299.2 25.1 L299.3 21.2 L299.3 25.4 L299.4 21.5 L299.4 25.6 L299.5 22.5 L299.5 24.5 L299.6 21.1 L299.7 26.2 L299.7 25.8 L299.7 22.0 L299.7 25.4 L299.8 21.5 L299.9 23.7 L299.9 24.3 L300.0 22.6 L300.1 26.0 L300.1 25.7 L300.1 26.2 L300.1 21.0 L300.3 21.5 L300.3 24.5 L300.3 21.2 L300.4 25.7 L300.5 25.7 L300.5 23.0 L300.6 21.8 L300.6 25.9 L300.7 22.8 L300.7 25.0 L300.8 21.2 L300.8 26.1 L300.9 24.3 L300.9 21.7 L301.0 21.6 L301.1 26.1 L301.1 24.3 L301.1 21.9 L301.2 25.8 L301.3 23.6 L301.3 23.3 L301.4 21.1 L301.5 26.2 L301.5 22.5 L301.6 25.5 L301.6 21.4 L301.7 22.0 L301.7 22.2 L301.7 25.9 L301.7 21.2 L301.9 25.7 L301.9 26.2 L302.0 22.4 L302.1 25.8 L302.1 22.7 L302.1 21.7 L302.2 25.8 L302.3 24.4 L302.3 22.3 L302.3 21.3 L302.5 26.2 L302.5 23.9 L302.6 26.2 L302.6 21.3 L302.7 24.9 L302.7 26.2 L302.8 22.5 L302.9 22.6 L302.9 24.2 L303.0 25.8 L303.1 21.2 L303.1 22.6 L303.2 25.5 L303.2 21.5 L303.3 23.7 L303.3 25.4 L303.3 26.2 L303.4 22.2 L303.5 24.1 L303.5 23.7 L303.6 21.2 L303.7 26.0 L303.7 26.0 L303.9 21.0 L303.9 26.1 L303.9 22.0 L303.9 24.9 L304.0 26.1 L304.1 21.3 L304.1 21.1 L304.2 26.1 L304.3 24.9 L304.3 23.9 L304.3 26.2 L304.5 21.3 L304.5 21.0 L304.7 26.3 L304.7 21.6 L304.7 25.5 L304.8 25.7 L304.9 21.3 L304.9 24.2 L304.9 21.4 L305.0 25.2 L305.1 24.9 L305.1 23.6 L305.2 25.3 L305.2 21.2 L305.3 22.8 L305.3 21.9 L305.4 21.4 L305.4 25.0 L305.5 24.9 L305.5 24.8 L305.6 25.9 L305.7 21.7 L305.7 25.0 L305.8 22.3 L305.9 25.4 L305.9 24.5 L305.9 21.2 L306.0 25.8 L306.1 24.2 L306.1 21.3 L306.2 21.1 L306.3 26.0 L306.3 22.4 L306.3 24.5 L306.3 22.1 L306.5 26.2 L306.5 22.4 L306.5 21.8 L306.7 25.9 L306.7 21.6 L306.7 26.2 L306.8 21.2 L306.9 22.8 L306.9 22.7 L307.0 21.9 L307.0 25.9 L307.1 24.9 L307.1 25.6 L307.2 26.1 L307.2 22.1 L307.3 24.8 L307.3 21.3 L307.4 26.1 L307.5 21.4 L307.5 26.1 L307.7 22.1 L307.7 24.8 L307.7 21.4 L307.8 24.9 L307.9 21.4 L307.9 21.2 L308.0 21.1 L308.0 25.5 L308.1 23.4 L308.1 22.2 L308.2 21.7 L308.2 26.3 L308.3 22.9 L308.3 24.7 L308.4 25.9 L308.4 21.4 L308.5 25.7 L308.5 24.0 L308.5 26.0 L308.6 21.2 L308.7 25.5 L308.7 25.1 L308.8 21.3 L308.8 25.3 L308.9 21.9 L308.9 24.3 L308.9 25.6 L309.0 21.2 L309.1 24.8 L309.1 23.4 L309.1 21.4 L309.2 25.6 L309.3 22.5 L309.3 24.1 L309.3 21.5 L309.5 26.0 L309.5 21.6 L309.5 24.4 L309.6 25.3 L309.6 21.5 L309.7 22.0 L309.7 23.8 L309.7 25.9 L309.7 22.4 L309.9 24.6 L309.9 24.3 L310.0 21.8 L310.1 26.2 L310.1 23.3 L310.1 25.2 L310.2 21.1 L310.2 25.4 L310.3 24.8 L310.3 24.9 L310.5 21.3 L310.5 26.1 L310.5 24.9 L310.6 26.4 L310.7 21.8 L310.7 22.3 L310.7 24.0 L310.8 26.2 L310.9 22.7 L310.9 23.4 L310.9 24.0 L310.9 22.3 L311.0 26.1 L311.1 22.7 L311.1 25.2 L311.1 21.9 L311.2 25.8 L311.3 23.6 L311.3 21.4 L311.3 25.9 L311.5 25.7 L311.5 23.6 L311.6 26.0 L311.6 22.2 L311.7 25.6 L311.7 24.8 L311.7 26.1 L311.8 21.4 L311.9 23.9 L311.9 21.6 L312.0 21.4 L312.0 24.9 L312.1 23.7 L312.1 25.0 L312.1 21.5 L312.1 25.7 L312.3 24.2 L312.3 24.7 L312.5 21.2 L312.5 26.2 L312.5 24.7 L312.6 26.1 L312.7 21.2 L312.7 22.1 L312.8 25.7 L312.9 21.3 L312.9 23.6 L312.9 24.1 L312.9 21.2 L313.1 25.5 L313.1 23.9 L313.1 26.1 L313.2 21.7 L313.3 23.9 L313.3 25.2 L313.3 21.5 L313.5 25.2 L313.5 23.2 L313.5 25.5 L313.6 26.1 L313.6 21.8 L313.7 23.2 L313.7 22.7 L313.8 21.3 L313.8 26.1 L313.9 23.1 L313.9 22.6 L314.1 26.2 L314.1 21.6 L314.1 22.0 L314.2 21.2 L314.3 26.0 L314.3 25.3 L314.3 25.7 L314.4 21.5 L314.5 22.8 L314.5 24.9 L314.6 26.1 L314.7 21.0 L314.7 23.4 L314.7 22.8 L314.8 25.9 L314.9 25.4 L314.9 24.8 L314.9 21.4 L315.0 26.2 L315.1 22.3 L315.1 21.8 L315.1 21.5 L315.2 25.9 L315.3 24.6 L315.3 22.6 L315.4 26.1 L315.5 22.4 L315.5 26.1 L315.6 26.2 L315.7 22.2 L315.7 23.4 L315.8 26.0 L315.8 22.1 L315.9 25.7 L315.9 21.2 L316.1 25.9 L316.1 21.0 L316.1 23.0 L316.1 22.0 L316.2 21.5 L316.3 26.2 L316.3 21.6 L316.3 21.4 L316.3 26.1 L316.5 24.7 L316.5 25.4 L316.6 26.1 L316.7 21.4 L316.7 24.9 L316.7 23.1 L316.8 21.7 L316.9 25.8 L316.9 22.5 L316.9 21.0 L317.0 25.9 L317.1 24.2 L317.1 22.0 L317.2 21.3 L317.2 25.6 L317.3 23.7 L317.3 23.6 L317.3 25.0 L317.4 21.2 L317.5 22.7 L317.5 24.2 L317.5 21.3 L317.6 25.4 L317.7 24.1 L317.7 22.0 L317.8 26.3 L317.9 25.9 L317.9 21.5 L318.0 26.2 L318.0 21.0 L318.1 23.2 L318.1 24.0 L318.2 21.2 L318.2 26.1 L318.3 22.6 L318.3 24.3 L318.3 24.7 L318.4 21.6 L318.5 24.5 L318.5 25.7 L318.5 21.5 L318.7 26.2 L318.7 23.8 L318.7 21.5 L318.7 25.8 L318.9 24.9 L318.9 25.5 L319.0 26.2 L319.0 21.3 L319.1 24.3 L319.1 24.9 L319.1 21.1 L319.1 26.1 L319.3 25.2 L319.3 25.8 L319.4 21.1 L319.5 26.3 L319.5 21.1 L319.6 25.7 L319.7 21.5 L319.7 22.6 L319.8 25.8 L319.9 21.3 L319.9 24.8 L319.9 26.1 L320.0 26.3 L320.0 21.4 L320.1 23.2 L320.1 24.5 L320.2 26.4 L320.3 21.4 L320.3 24.8 L320.4 26.1 L320.4 21.4 L320.5 22.2 L320.5 22.8 L320.6 21.4 L320.7 26.3 L320.7 22.7 L320.7 25.4 L320.9 21.2 L320.9 24.9 L321.0 26.1 L321.1 21.6 L321.1 23.7 L321.1 25.0 L321.2 21.1 L321.3 22.6 L321.3 23.4 L321.3 21.4 L321.4 25.7 L321.5 22.8 L321.5 26.0 L321.6 21.1 L321.7 25.8 L321.7 24.3 L321.7 25.9 L321.8 21.1 L321.9 25.5 L321.9 25.9 L322.0 21.5 L322.1 24.3 L322.1 24.3 L322.2 26.0 L322.3 21.6 L322.3 22.8 L322.4 25.8 L322.4 21.3 L322.5 24.0 L322.5 24.6 L322.6 22.2 L322.7 26.2 L322.7 23.3 L322.8 22.5 L322.8 26.4 L322.9 23.0 L322.9 24.0 L323.0 21.4 L323.0 26.0 L323.1 23.8 L323.1 24.1 L323.1 25.7 L323.3 21.2 L323.3 25.5 L323.4 21.0 L323.4 25.9 L323.5 21.5 L323.5 26.1 L323.5 22.3 L323.7 23.3 L323.7 23.4 L323.8 26.1 L323.8 21.0 L323.9 24.9 L323.9 24.5 L324.0 21.1 L324.1 22.8 L324.1 26.1 L324.1 26.1 L324.2 21.1 L324.3 25.5 L324.3 26.0 L324.4 21.3 L324.5 23.4 L324.5 23.2 L324.6 25.9 L324.7 25.8 L324.7 22.9 L324.8 26.0 L324.8 21.4 L324.9 21.9 L324.9 23.6 L325.0 21.7 L325.1 26.0 L325.1 23.4 L325.1 23.0 L325.1 25.1 L325.3 21.1 L325.3 23.2 L325.3 21.5 L325.3 21.3 L325.4 26.2 L325.5 22.4 L325.5 25.9 L325.6 21.3 L325.7 26.2 L325.7 24.3 L325.7 24.1 L325.7 25.7 L325.8 21.5 L325.9 24.4 L325.9 24.7 L326.1 25.8 L326.1 21.3 L326.1 25.4 L326.1 23.2 L326.2 24.9 L326.3 22.0 L326.3 24.7 L326.3 26.2 L326.5 21.2 L326.5 24.0 L326.5 25.3 L326.7 21.9 L326.7 23.8 L326.7 25.6 L326.8 26.1 L326.8 22.2 L326.9 24.4 L326.9 22.3 L327.0 25.9 L327.0 21.3 L327.1 22.9 L327.1 22.7 L327.2 21.0 L327.2 26.0 L327.3 21.3 L327.3 24.5 L327.3 22.4 L327.5 25.6 L327.5 24.2 L327.5 21.2 L327.6 26.2 L327.7 22.8 L327.7 21.1 L327.9 25.9 L327.9 23.5 L327.9 21.2 L328.1 26.2 L328.1 23.0 L328.1 26.1 L328.3 21.2 L328.3 22.5 L328.4 25.6 L328.5 21.7 L328.5 23.9 L328.5 22.4 L328.6 26.0 L328.6 21.0 L328.7 25.8 L328.7 25.2 L328.8 25.3 L328.9 21.4 L328.9 22.3 L328.9 23.7 L329.0 21.7 L329.1 25.8 L329.1 24.2 L329.2 25.2 L329.3 21.1 L329.3 21.5 L329.3 22.5 L329.4 25.9 L329.4 21.9 L329.5 23.8 L329.5 22.6 L329.6 25.3 L329.6 21.4 L329.7 22.2 L329.7 25.5 L329.7 22.3 L329.8 26.1 L329.9 25.2 L329.9 26.1 L329.9 21.4 L330.1 22.1 L330.1 22.3 L330.2 25.8 L330.2 21.5 L330.3 25.1 L330.3 25.3 L330.4 21.2 L330.5 25.5 L330.5 21.4 L330.6 26.1 L330.7 21.3 L330.7 25.8 L330.7 25.0 L330.8 21.1 L330.9 26.1 L330.9 23.7 L330.9 21.4 L331.0 26.3 L331.1 24.7 L331.1 25.5 L331.2 21.4 L331.3 26.3 L331.3 24.1 L331.4 21.1 L331.4 25.8 L331.5 25.4 L331.5 22.0 L331.6 26.2 L331.7 25.4 L331.7 23.0 L331.7 25.8 L331.8 21.3 L331.9 25.3 L331.9 25.2 L332.0 25.2 L332.1 21.6 L332.1 22.5 L332.2 26.2 L332.3 23.4 L332.3 23.5 L332.3 22.3 L332.4 25.9 L332.5 23.3 L332.5 24.0 L332.6 25.4 L332.7 21.4 L332.7 25.1 L332.7 25.6 L332.7 21.3 L332.9 26.2 L332.9 22.7 L332.9 25.5 L333.1 21.4 L333.1 22.2 L333.1 23.1 L333.1 22.9 L333.3 25.3 L333.3 23.4 L333.3 22.4 L333.3 25.1 L333.4 21.4 L333.5 23.1 L333.5 25.4 L333.5 21.2 L333.7 26.2 L333.7 25.6 L333.7 25.4 L333.8 25.4 L333.8 21.3 L333.9 22.7 L333.9 21.2 L334.0 25.9 L334.1 25.0 L334.1 23.8 L334.1 26.1 L334.2 23.3 L334.3 24.9 L334.3 21.8 L334.4 21.2 L334.4 25.2 L334.5 24.9 L334.5 21.8 L334.6 25.9 L334.6 21.6 L334.7 23.1 L334.7 24.6 L334.8 26.1 L334.8 21.3 L334.9 21.6 L334.9 25.0 L335.0 21.0 L335.1 25.9 L335.1 23.1 L335.1 24.0 L335.3 21.4 L335.3 25.5 L335.3 24.8 L335.3 21.2 L335.5 25.5 L335.5 25.1 L335.5 24.0 L335.6 25.2 L335.6 21.4 L335.7 23.1 L335.7 25.8 L335.8 21.2 L335.9 26.3 L335.9 25.9 L335.9 22.4 L335.9 24.5 L336.1 22.2 L336.1 22.1 L336.1 21.1 L336.2 25.4 L336.3 24.5 L336.3 21.1 L336.5 21.1 L336.5 25.9 L336.5 25.3 L336.6 21.1 L336.6 25.5 L336.7 24.7 L336.7 22.4 L336.7 24.8 L336.8 22.2 L336.9 22.3 L336.9 21.5 L337.0 26.1 L337.1 24.8 L337.1 22.5 L337.2 21.2 L337.2 24.3 L337.3 21.8 L337.3 24.0 L337.4 26.2 L337.4 21.5 L337.5 24.8 L337.5 21.3 L337.6 26.2 L337.6 21.2 L337.7 24.5 L337.7 24.8 L337.8 25.7 L337.9 22.3 L337.9 24.9 L337.9 25.1 L338.0 26.1 L338.1 21.2 L338.1 25.8 L338.1 21.9 L338.1 21.0 L338.2 25.7 L338.3 25.4 L338.3 21.2 L338.4 25.2 L338.5 24.7 L338.5 25.8 L338.6 21.3 L338.7 23.0 L338.7 21.4 L338.9 26.0 L338.9 21.5 L338.9 24.8 L339.0 26.3 L339.1 21.1 L339.1 25.8 L339.1 23.5 L339.2 26.3 L339.3 24.1 L339.3 21.6 L339.4 26.0 L339.5 22.2 L339.5 23.0 L339.5 25.8 L339.6 22.9 L339.7 23.4 L339.7 26.3 L339.8 21.2 L339.9 22.1 L339.9 22.3 L340.0 21.2 L340.0 25.4 L340.1 23.0 L340.1 21.6 L340.2 26.3 L340.2 21.1 L340.3 25.2 L340.3 23.5 L340.4 26.2 L340.4 21.0 L340.5 26.2 L340.5 21.5 L340.5 21.3 L340.6 26.4 L340.7 24.8 L340.7 24.4 L340.8 21.8 L340.9 25.2 L340.9 21.1 L341.0 26.2 L341.1 25.5 L341.1 24.2 L341.2 25.8 L341.3 21.4 L341.3 21.4 L341.3 22.9 L341.3 25.2 L341.5 21.0 L341.5 24.9 L341.5 23.8 L341.6 25.8 L341.6 22.5 L341.7 22.7 L341.7 22.2 L341.7 26.2 L341.8 21.7 L341.9 24.4 L341.9 23.8 L342.1 26.2 L342.1 21.0 L342.1 21.6 L342.1 21.8 L342.2 25.1 L342.3 23.0 L342.3 22.1 L342.3 26.1 L342.4 21.9 L342.5 22.7 L342.5 25.7 L342.5 21.8 L342.6 26.2 L342.7 23.7 L342.7 21.9 L342.7 21.2 L342.8 26.2 L342.9 22.6 L342.9 23.0 L342.9 24.9 L343.0 22.3 L343.1 23.2 L343.1 21.3 L343.1 21.2 L343.2 25.0 L343.3 24.7 L343.3 25.7 L343.4 26.3 L343.4 21.3 L343.5 21.9 L343.5 22.7 L343.5 23.3 L343.6 21.5 L343.7 23.1 L343.7 23.9 L343.7 26.2 L343.9 22.7 L343.9 23.2 L343.9 26.2 L344.0 21.1 L344.1 24.9 L344.1 23.1 L344.2 21.1 L344.3 25.5 L344.3 23.5 L344.3 24.3 L344.5 21.8 L344.5 26.1 L344.5 25.0 L344.5 25.8 L344.6 21.2 L344.7 21.6 L344.7 21.8 L344.8 21.2 L344.9 26.1 L344.9 22.9 L344.9 23.9 L345.1 25.7 L345.1 21.9 L345.1 24.4 L345.1 26.0 L345.2 21.9 L345.3 26.3 L345.3 21.3 L345.3 21.1 L345.5 25.8 L345.5 23.5 L345.5 21.1 L345.7 25.5 L345.7 24.6 L345.7 24.2 L345.7 25.7 L345.9 21.1 L345.9 25.9 L346.0 21.0 L346.1 25.2 L346.1 23.4 L346.2 21.1 L346.2 24.9 L346.3 23.2 L346.3 23.5 L346.5 26.0 L346.5 21.2 L346.5 21.4 L346.7 26.3 L346.7 24.3 L346.7 21.8 L346.8 26.2 L346.8 21.2 L346.9 21.4 L346.9 21.8 L347.0 21.3 L347.0 26.4 L347.1 22.6 L347.1 23.0 L347.1 21.5 L347.2 24.4 L347.3 22.0 L347.3 25.1 L347.4 21.3 L347.5 26.0 L347.5 26.0 L347.5 26.0 L347.5 21.6 L347.7 22.6 L347.7 24.2 L347.8 21.3 L347.8 26.2 L347.9 25.5 L347.9 25.6 L348.0 21.8 L348.1 25.1 L348.1 23.2 L348.2 26.3 L348.3 21.7 L348.3 25.3 L348.3 24.2 L348.3 22.3 L348.4 26.1 L348.5 23.8 L348.5 22.2 L348.6 21.4 L348.6 24.6 L348.7 21.9 L348.7 25.2 L348.8 21.9 L348.8 25.8 L348.9 24.1 L348.9 24.9 L349.0 23.3 L349.0 26.2 L349.1 23.5 L349.1 22.6 L349.2 26.2 L349.2 22.4 L349.3 23.9 L349.3 25.2 L349.4 26.0 L349.4 21.7 L349.4 25.1" stroke="#ff7f0e"/>
<path d="M60.0 181.2 L88.5 181.2 L104.2 173.8 L113.4 156.2 L119.9 173.8 L125.0 150.0 L129.1 156.1 L132.6 134.0 L135.6 116.9 L138.3 170.4 L140.7 155.8 L142.8 204.0 L144.8 131.2 L146.6 178.0 L148.3 139.0 L149.9 102.6 L151.3 170.9 L152.7 150.0 L154.0 120.8 L155.2 162.0 L156.4 207.0 L157.5 135.0 L158.6 160.0 L159.6 128.0 L160.5 116.9 L161.5 155.0 L162.3 113.5 L163.2 140.0 L164.0 188.4 L164.8 150.0 L165.6 102.6 L166.3 135.0 L167.0 171.0 L167.7 110.6 L168.4 150.0 L169.1 105.7 L169.7 178.4 L170.3 108.0 L170.9 152.0 L171.5 110.0 L172.1 160.0 L172.7 107.0 L173.2 207.0 L173.7 108.0 L174.3 165.0 L174.8 109.0 L175.3 109.7 L175.8 160.5 L176.2 140.2 L176.7 107.9 L177.2 150.2 L177.6 119.2 L178.1 111.5 L178.5 151.1 L178.9 112.8 L179.3 102.3 L179.7 158.7 L180.1 100.6 L180.5 101.9 L180.9 147.5 L181.3 142.2 L181.7 105.2 L182.0 201.4 L182.4 200.7 L182.8 109.1 L183.1 157.5 L183.5 147.3 L183.8 104.5 L184.1 151.6 L184.5 116.9 L184.8 101.2 L185.1 200.2 L185.4 112.2 L185.7 100.0 L186.1 157.7 L186.4 138.1 L186.7 96.9 L187.0 151.9 L187.2 141.5 L187.5 92.7 L187.8 147.2 L188.1 132.7 L188.4 92.3 L188.7 152.4 L188.9 99.2 L189.2 95.3 L189.5 148.0 L189.7 103.3 L190.0 92.3 L190.2 200.5 L190.5 203.3 L190.7 95.0 L191.0 148.9 L191.2 209.8 L191.5 100.5 L191.7 205.4 L192.0 125.4 L192.2 101.9 L192.4 145.7 L192.6 102.7 L192.9 102.2 L193.1 146.1 L193.3 204.3 L193.5 207.6 L193.8 154.4 L194.0 112.8 L194.2 100.3 L194.4 147.9 L194.6 132.3 L194.8 97.2 L195.0 146.0 L195.2 140.2 L195.4 204.6 L195.6 203.4 L195.8 201.8 L196.0 97.2 L196.2 151.1 L196.4 206.2 L196.6 97.0 L196.8 149.2 L197.0 149.4 L197.2 96.6 L197.4 157.5 L197.6 205.0 L197.8 97.1 L197.9 165.3 L198.1 95.3 L198.3 93.8 L198.5 166.3 L198.6 113.9 L198.8 93.9 L199.0 144.4 L199.2 97.8 L199.3 210.5 L199.5 149.9 L199.7 201.2 L199.8 204.9 L200.0 154.8 L200.2 124.4 L200.3 89.4 L200.5 154.4 L200.7 154.4 L200.8 95.1 L201.0 157.4 L201.1 145.1 L201.3 94.1 L201.5 159.1 L201.6 113.9 L201.8 87.0 L201.9 154.6 L202.1 86.3 L202.2 86.9 L202.4 144.2 L202.5 91.9 L202.7 88.4 L202.8 165.0 L203.0 118.8 L203.1 91.5 L203.2 207.2 L203.4 208.3 L203.5 92.3 L203.7 162.1 L203.8 119.1 L203.9 202.7 L204.1 168.2 L204.2 110.0 L204.4 205.6 L204.5 208.3 L204.6 209.8 L204.8 96.0 L204.9 157.3 L205.0 163.4 L205.2 95.0 L205.3 159.4 L205.4 152.3 L205.6 88.3 L205.7 147.8 L205.8 147.4 L205.9 87.6 L206.1 152.4 L206.2 87.0 L206.3 85.5 L206.4 155.3 L206.6 152.9 L206.7 85.4 L206.8 160.9 L206.9 104.8 L207.1 83.3 L207.2 159.2 L207.3 90.8 L207.4 82.6 L207.5 154.7 L207.7 163.6 L207.8 82.3 L207.9 169.0 L208.0 154.9 L208.1 80.1 L208.2 157.5 L208.4 147.1 L208.5 79.8 L208.6 204.9 L208.7 134.5 L208.8 210.4 L208.9 150.1 L209.0 202.4 L209.1 208.3 L209.3 151.6 L209.4 83.5 L209.5 200.6 L209.6 149.4 L209.7 128.3 L209.8 72.1 L209.9 149.1 L210.0 82.6 L210.1 71.8 L210.2 161.3 L210.3 201.7 L210.4 68.8 L210.5 160.2 L210.6 144.9 L210.7 69.3 L210.8 148.9 L211.0 71.2 L211.1 66.7 L211.2 149.1 L211.3 143.1 L211.4 65.3 L211.5 140.5 L211.6 97.5 L211.7 65.3 L211.8 155.6 L211.9 80.0 L211.9 63.2 L212.0 151.8 L212.1 78.3 L212.2 60.7 L212.3 204.4 L212.4 66.8 L212.5 58.6 L212.6 148.3 L212.7 76.9 L212.8 56.4 L212.9 149.6 L213.0 53.3 L213.1 53.3 L213.2 149.5 L213.3 85.7 L213.4 49.4 L213.5 208.4 L213.6 122.3 L213.6 47.7 L213.7 136.5 L213.8 207.7 L213.9 44.7 L214.0 150.7 L214.1 118.1 L214.2 43.0 L214.3 203.8 L214.4 205.5 L214.4 204.2 L214.5 206.4 L214.6 75.3 L214.7 202.7 L214.9 55.4 L215.0 44.4 L215.0 122.2 L215.1 57.0 L215.2 42.1 L215.3 117.4 L215.5 42.6 L215.6 105.6 L215.6 102.5 L215.7 42.0 L215.8 95.7 L215.9 82.5 L216.0 42.1 L216.0 92.3 L216.1 102.9 L216.2 41.3 L216.3 96.5 L216.4 56.5 L216.5 41.9 L216.5 89.3 L216.6 97.9 L216.7 42.0 L216.8 99.1 L216.9 61.7 L216.9 29.0 L217.0 97.1 L217.1 51.2 L217.2 28.7 L217.2 85.5 L217.3 45.7 L217.4 29.9 L217.5 84.8 L217.5 71.5 L217.6 29.0 L217.7 91.2 L217.9 22.1 L217.9 88.9 L218.1 21.9 L218.2 81.1 L218.2 78.9 L218.3 22.6 L218.4 73.8 L218.4 43.7 L218.5 21.4 L218.6 77.6 L218.7 34.3 L218.7 22.5 L218.8 76.9 L218.9 59.0 L219.0 21.5 L219.0 70.4 L219.1 37.3 L219.2 21.8 L219.2 76.0 L219.3 61.3 L219.4 21.4 L219.5 67.7 L219.5 63.6 L219.6 22.0 L219.7 63.3 L219.7 28.0 L219.8 22.0 L219.9 59.1 L219.9 37.8 L220.0 21.8 L220.1 56.5 L220.1 50.9 L220.2 21.1 L220.3 49.9 L220.3 25.8 L220.4 21.8 L220.5 47.8 L220.5 41.2 L220.6 21.8 L220.7 47.9 L220.7 41.4 L220.8 21.6 L220.9 45.4 L220.9 26.8 L221.0 21.5 L221.1 41.5 L221.1 32.6 L221.2 21.2 L221.3 42.0 L221.3 23.9 L221.4 21.3 L221.5 38.3 L221.5 34.1 L221.6 21.5 L221.7 41.1 L221.7 26.0 L221.8 21.3 L221.8 37.3 L221.9 35.2 L222.0 21.2 L222.0 38.5 L222.1 37.7 L222.2 21.4 L222.2 37.2 L222.3 23.4 L222.3 21.4 L222.4 35.4 L222.5 26.3 L222.5 21.2 L222.6 33.5 L222.7 31.6 L222.7 21.0 L222.8 33.2 L222.9 21.3 L223.0 34.0 L223.0 34.2 L223.1 21.2 L223.1 31.7 L223.3 21.1 L223.3 33.0 L223.4 21.2 L223.5 32.0 L223.5 24.4 L223.6 21.2 L223.7 30.6 L223.7 30.7 L223.8 21.2 L223.9 25.7 L224.0 21.1 L224.0 29.4 L224.1 26.5 L224.1 21.1 L224.2 27.6 L224.3 21.1 L224.4 27.6 L224.5 21.0 L224.5 26.8 L224.6 21.0 L224.7 25.2 L224.7 22.4 L224.8 21.1 L224.9 25.2 L224.9 21.8 L225.0 21.1 L225.0 23.9 L225.1 22.9 L225.1 21.0 L225.2 22.9 L225.3 21.0 L225.3 22.2 L225.5 21.0 L225.5 21.4 L225.6 21.0 L225.7 21.0 L225.7 21.0 L225.9 21.0 L225.9 21.0 L226.1 21.0 L226.1 21.0 L226.2 21.0 L226.3 21.0 L226.5 21.0 L226.5 21.0 L226.7 21.0 L226.7 21.0 L226.9 21.0 L226.9 21.0 L227.1 21.0 L227.1 21.0 L227.3 21.0 L227.3 21.0 L227.5 21.0 L227.5 21.0 L227.7 21.0 L227.7 21.0 L227.9 21.0 L227.9 21.0 L228.1 21.0 L228.1 21.0 L228.3 21.0 L228.3 21.0 L228.5 21.0 L228.5 21.0 L228.7 21.0 L228.7 21.0 L228.9 21.0 L228.9 21.0 L229.1 21.0 L229.1 21.0 L229.3 21.0 L229.3 21.0 L229.5 21.0 L229.5 21.0 L229.7 21.0 L229.7 21.0 L229.9 21.0 L229.9 21.0 L230.1 21.0 L230.1 21.0 L230.3 21.0 L230.3 21.0 L230.5 21.0 L230.5 21.0 L230.7 21.0 L230.7 21.0 L230.9 21.0 L230.9 21.0 L231.1 21.0 L231.1 21.0 L231.3 21.0 L231.3 21.0 L231.5 21.0 L231.5 21.0 L231.7 21.0 L231.7 21.0 L231.9 21.0 L231.9 21.0 L232.1 21.0 L232.1 21.0 L232.3 21.0 L232.3 21.0 L232.5 21.0 L232.5 21.0 L232.7 21.0 L232.7 21.0 L232.9 21.0 L232.9 21.0 L233.1 21.0 L233.1 21.0 L233.3 21.0 L233.3 21.0 L233.5 21.0 L233.5 21.0 L233.7 21.0 L233.7 21.0 L233.9 21.0 L233.9 21.0 L234.1 21.0 L234.1 21.0 L234.3 21.0 L234.3 21.0 L234.5 21.0 L234.5 21.0 L234.7 21.0 L234.7 21.0 L234.9 21.0 L234.9 21.0 L235.1 21.0 L235.1 21.0 L235.3 21.0 L235.3 21.0 L235.5 21.0 L235.5 21.0 L235.7 21.0 L235.7 21.0 L235.9 21.0 L235.9 21.0 L236.1 21.0 L236.1 21.0 L236.3 21.0 L236.3 21.0 L236.5 21.0 L236.5 21.0 L236.7 21.0 L236.7 21.0 L236.9 21.0 L236.9 21.0 L237.1 21.0 L237.1 21.0 L237.3 21.0 L237.3 21.0 L237.5 21.0 L237.5 21.0 L237.7 21.0 L237.7 21.0 L237.9 21.0 L237.9 21.0 L238.1 21.0 L238.1 21.0 L238.3 21.0 L238.3 21.0 L238.5 21.0 L238.5 21.0 L238.7 21.0 L238.7 21.0 L238.9 21.0 L238.9 21.0 L239.1 21.0 L239.1 21.0 L239.3 21.0 L239.3 21.0 L239.5 21.0 L239.5 21.0 L239.7 21.0 L239.7 21.0 L239.9 21.0 L239.9 21.0 L240.1 21.0 L240.1 21.0 L240.3 21.0 L240.3 21.0 L240.5 21.0 L240.5 21.0 L240.7 21.0 L240.7 21.0 L240.9 21.0 L240.9 21.0 L241.1 21.0 L241.1 21.0 L241.3 21.0 L241.3 21.0 L241.5 21.0 L241.5 21.0 L241.7 21.0 L241.7 21.0 L241.9 21.0 L241.9 21.0 L242.1 21.0 L242.1 21.0 L242.3 21.0 L242.3 21.0 L242.5 21.0 L242.5 21.0 L242.7 21.0 L242.7 21.0 L242.9 21.0 L242.9 21.0 L243.1 21.0 L243.1 21.0 L243.3 21.0 L243.3 21.0 L243.5 21.0 L243.5 21.0 L243.7 21.0 L243.7 21.0 L243.9 21.0 L243.9 21.0 L244.1 21.0 L244.1 21.0 L244.3 21.0 L244.3 21.0 L244.5 21.0 L244.5 21.0 L244.7 21.0 L244.7 21.0 L244.9 21.0 L244.9 21.0 L245.1 21.0 L245.1 21.0 L245.3 21.0 L245.3 21.0 L245.5 21.0 L245.5 21.0 L245.7 21.0 L245.7 21.0 L245.9 21.0 L245.9 21.0 L246.1 21.0 L246.1 21.0 L246.3 21.0 L246.3 21.0 L246.5 21.0 L246.5 21.0 L246.7 21.0 L246.7 21.0 L246.9 21.0 L246.9 21.0 L247.1 21.0 L247.1 21.0 L247.3 21.0 L247.3 21.0 L247.5 21.0 L247.5 21.0 L247.7 21.0 L247.7 21.0 L247.9 21.0 L247.9 21.0 L248.1 21.0 L248.1 21.0 L248.3 21.0 L248.3 21.0 L248.5 21.0 L248.5 21.0 L248.7 21.0 L248.7 21.0 L248.9 21.0 L248.9 21.0 L249.1 21.0 L249.1 21.0 L249.3 21.0 L249.3 21.0 L249.5 21.0 L249.5 21.0 L249.7 21.0 L249.7 21.0 L249.9 21.0 L249.9 21.0 L250.1 21.0 L250.1 21.0 L250.3 21.0 L250.3 21.0 L250.5 21.0 L250.5 21.0 L250.7 21.0 L250.7 21.0 L250.9 21.0 L250.9 21.0 L251.1 21.0 L251.1 21.0 L251.3 21.0 L251.3 21.0 L251.5 21.0 L251.5 21.0 L251.7 21.0 L251.7 21.0 L251.9 21.0 L251.9 21.0 L252.1 21.0 L252.1 21.0 L252.3 21.0 L252.3 21.0 L252.5 21.0 L252.5 21.0 L252.7 21.0 L252.7 21.0 L252.9 21.0 L252.9 21.0 L253.1 21.0 L253.1 21.0 L253.3 21.0 L253.3 21.0 L253.5 21.0 L253.5 21.0 L253.7 21.0 L253.7 21.0 L253.9 21.0 L253.9 21.0 L254.1 21.0 L254.1 21.0 L254.3 21.0 L254.3 21.0 L254.5 21.0 L254.5 21.0 L254.7 21.0 L254.7 21.0 L254.9 21.0 L254.9 21.0 L255.1 21.0 L255.1 21.0 L255.3 21.0 L255.3 21.0 L255.5 21.0 L255.5 21.0 L255.7 21.0 L255.7 21.0 L255.9 21.0 L255.9 21.0 L256.1 21.0 L256.1 21.0 L256.3 21.0 L256.3 21.0 L256.5 21.0 L256.5 21.0 L256.7 21.0 L256.7 21.0 L256.9 21.0 L256.9 21.0 L257.1 21.0 L257.1 21.0 L257.3 21.0 L257.3 21.0 L257.5 21.0 L257.5 21.0 L257.7 21.0 L257.7 21.0 L257.9 21.0 L257.9 21.0 L258.1 21.0 L258.1 21.0 L258.3 21.0 L258.3 21.0 L258.5 21.0 L258.5 21.0 L258.7 21.0 L258.7 21.0 L258.9 21.0 L258.9 21.0 L259.1 21.0 L259.1 21.0 L259.3 21.0 L259.3 21.0 L259.5 21.0 L259.5 21.0 L259.7 21.0 L259.7 21.0 L259.9 21.0 L259.9 21.0 L260.1 21.0 L260.1 21.0 L260.3 21.0 L260.3 21.0 L260.5 21.0 L260.5 21.0 L260.7 21.0 L260.7 21.0 L260.9 21.0 L260.9 21.0 L261.1 21.0 L261.1 21.0 L261.3 21.0 L261.3 21.0 L261.5 21.0 L261.5 21.0 L261.7 21.0 L261.7 21.0 L261.9 21.0 L261.9 21.0 L262.1 21.0 L262.1 21.0 L262.3 21.0 L262.3 21.0 L262.5 21.0 L262.5 21.0 L262.7 21.0 L262.7 21.0 L262.9 21.0 L262.9 21.0 L263.1 21.0 L263.1 21.0 L263.3 21.0 L263.3 21.0 L263.5 21.0 L263.5 21.0 L263.7 21.0 L263.7 21.0 L263.9 21.0 L263.9 21.0 L264.1 21.0 L264.1 21.0 L264.3 21.0 L264.3 21.0 L264.5 21.0 L264.5 21.0 L264.7 21.0 L264.7 21.0 L264.9 21.0 L264.9 21.0 L265.1 21.0 L265.1 21.0 L265.3 21.0 L265.3 21.0 L265.5 21.0 L265.5 21.0 L265.7 21.0 L265.7 21.0 L265.9 21.0 L265.9 21.0 L266.1 21.0 L266.1 21.0 L266.3 21.0 L266.3 21.0 L266.5 21.0 L266.5 21.0 L266.7 21.0 L266.7 21.0 L266.9 21.0 L266.9 21.0 L267.1 21.0 L267.1 21.0 L267.3 21.0 L267.3 21.0 L267.5 21.0 L267.5 21.0 L267.7 21.0 L267.7 21.0 L267.9 21.0 L267.9 21.0 L268.1 21.0 L268.1 21.0 L268.3 21.0 L268.3 21.0 L268.5 21.0 L268.5 21.0 L268.7 21.0 L268.7 21.0 L268.9 21.0 L268.9 21.0 L269.1 21.0 L269.1 21.0 L269.3 21.0 L269.3 21.0 L269.5 21.0 L269.5 21.0 L269.7 21.0 L269.7 21.0 L269.9 21.0 L269.9 21.0 L270.1 21.0 L270.1 21.0 L270.3 21.0 L270.3 21.0 L270.5 21.0 L270.5 21.0 L270.7 21.0 L270.7 21.0 L270.9 21.0 L270.9 21.0 L271.1 21.0 L271.1 21.0 L271.3 21.0 L271.3 21.0 L271.5 21.0 L271.5 21.0 L271.7 21.0 L271.7 21.0 L271.9 21.0 L271.9 21.0 L272.1 21.0 L272.1 21.0 L272.3 21.0 L272.3 21.0 L272.5 21.0 L272.5 21.0 L272.7 21.0 L272.7 21.0 L272.9 21.0 L272.9 21.0 L273.1 21.0 L273.1 21.0 L273.3 21.0 L273.3 21.0 L273.5 21.0 L273.5 21.0 L273.7 21.0 L273.7 21.0 L273.9 21.0 L273.9 21.0 L274.1 21.0 L274.1 21.0 L274.3 21.0 L274.3 21.0 L274.5 21.0 L274.5 21.0 L274.7 21.0 L274.7 21.0 L274.9 21.0 L274.9 21.0 L275.1 21.0 L275.1 21.0 L275.3 21.0 L275.3 21.0 L275.5 21.0 L275.5 21.0 L275.7 21.0 L275.7 21.0 L275.9 21.0 L275.9 21.0 L276.1 21.0 L276.1 21.0 L276.3 21.0 L276.3 21.0 L276.5 21.0 L276.5 21.0 L276.7 21.0 L276.7 21.0 L276.9 21.0 L276.9 21.0 L277.1 21.0 L277.1 21.0 L277.3 21.0 L277.3 21.0 L277.5 21.0 L277.5 21.0 L277.7 21.0 L277.7 21.0 L277.9 21.0 L277.9 21.0 L278.1 21.0 L278.1 21.0 L278.3 21.0 L278.3 21.0 L278.5 21.0 L278.5 21.0 L278.7 21.0 L278.7 21.0 L278.9 21.0 L278.9 21.0 L279.1 21.0 L279.1 21.0 L279.3 21.0 L279.3 21.0 L279.5 21.0 L279.5 21.0 L279.7 21.0 L279.7 21.0 L279.9 21.0 L279.9 21.0 L280.1 21.0 L280.1 21.0 L280.3 21.0 L280.3 21.0 L280.5 21.0 L280.5 21.0 L280.7 21.0 L280.7 21.0 L280.9 21.0 L280.9 21.0 L281.1 21.0 L281.1 21.0 L281.3 21.0 L281.3 21.0 L281.5 21.0 L281.5 21.0 L281.7 21.0 L281.7 21.0 L281.9 21.0 L281.9 21.0 L282.1 21.0 L282.1 21.0 L282.3 21.0 L282.3 21.0 L282.5 21.0 L282.5 21.0 L282.7 21.0 L282.7 21.0 L282.9 21.0 L282.9 21.0 L283.1 21.0 L283.1 21.0 L283.3 21.0 L283.3 21.0 L283.5 21.0 L283.5 21.0 L283.7 21.0 L283.7 21.0 L283.9 21.0 L283.9 21.0 L284.1 21.0 L284.1 21.0 L284.3 21.0 L284.3 21.0 L284.5 21.0 L284.5 21.0 L284.7 21.0 L284.7 21.0 L284.9 21.0 L284.9 21.0 L285.1 21.0 L285.1 21.0 L285.3 21.0 L285.3 21.0 L285.5 21.0 L285.5 21.0 L285.7 21.0 L285.7 21.0 L285.9 21.0 L285.9 21.0 L286.1 21.0 L286.1 21.0 L286.3 21.0 L286.3 21.0 L286.5 21.0 L286.5 21.0 L286.7 21.0 L286.7 21.0 L286.9 21.0 L286.9 21.0 L287.1 21.0 L287.1 21.0 L287.3 21.0 L287.3 21.0 L287.5 21.0 L287.5 21.0 L287.7 21.0 L287.7 21.0 L287.9 21.0 L287.9 21.0 L288.1 21.0 L288.1 21.0 L288.3 21.0 L288.3 21.0 L288.5 21.0 L288.5 21.0 L288.7 21.0 L288.7 21.0 L288.9 21.0 L288.9 21.0 L289.1 21.0 L289.1 21.0 L289.3 21.0 L289.3 21.0 L289.5 21.0 L289.5 21.0 L289.7 21.0 L289.7 21.0 L289.9 21.0 L289.9 21.0 L290.1 21.0 L290.1 21.0 L290.3 21.0 L290.3 21.0 L290.5 21.0 L290.5 21.0 L290.7 21.0 L290.7 21.0 L290.9 21.0 L290.9 21.0 L291.1 21.0 L291.1 21.0 L291.3 21.0 L291.3 21.0 L291.5 21.0 L291.5 21.0 L291.7 21.0 L291.7 21.0 L291.9 21.0 L291.9 21.0 L292.1 21.0 L292.1 21.0 L292.3 21.0 L292.3 21.0 L292.5 21.0 L292.5 21.0 L292.7 21.0 L292.7 21.0 L292.9 21.0 L292.9 21.0 L293.1 21.0 L293.1 21.0 L293.3 21.0 L293.3 21.0 L293.5 21.0 L293.5 21.0 L293.7 21.0 L293.7 21.0 L293.9 21.0 L293.9 21.0 L294.1 21.0 L294.1 21.0 L294.3 21.0 L294.3 21.0 L294.5 21.0 L294.5 21.0 L294.7 21.0 L294.7 21.0 L294.9 21.0 L294.9 21.0 L295.1 21.0 L295.1 21.0 L295.3 21.0 L295.3 21.0 L295.5 21.0 L295.5 21.0 L295.7 21.0 L295.7 21.0 L295.9 21.0 L295.9 21.0 L296.1 21.0 L296.1 21.0 L296.3 21.0 L296.3 21.0 L296.5 21.0 L296.5 21.0 L296.7 21.0 L296.7 21.0 L296.9 21.0 L296.9 21.0 L297.1 21.0 L297.1 21.0 L297.3 21.0 L297.3 21.0 L297.5 21.0 L297.5 21.0 L297.7 21.0 L297.7 21.0 L297.9 21.0 L297.9 21.0 L298.1 21.0 L298.1 21.0 L298.3 21.0 L298.3 21.0 L298.5 21.0 L298.5 21.0 L298.7 21.0 L298.7 21.0 L298.9 21.0 L298.9 21.0 L299.1 21.0 L299.1 21.0 L299.3 21.0 L299.3 21.0 L299.5 21.0 L299.5 21.0 L299.7 21.0 L299.7 21.0 L299.9 21.0 L299.9 21.0 L300.1 21.0 L300.1 21.0 L300.3 21.0 L300.3 21.0 L300.5 21.0 L300.5 21.0 L300.7 21.0 L300.7 21.0 L300.9 21.0 L300.9 21.0 L301.1 21.0 L301.1 21.0 L301.3 21.0 L301.3 21.0 L301.5 21.0 L301.5 21.0 L301.7 21.0 L301.7 21.0 L301.9 21.0 L301.9 21.0 L302.1 21.0 L302.1 21.0 L302.3 21.0 L302.3 21.0 L302.5 21.0 L302.5 21.0 L302.7 21.0 L302.7 21.0 L302.9 21.0 L302.9 21.0 L303.1 21.0 L303.1 21.0 L303.3 21.0 L303.3 21.0 L303.5 21.0 L303.5 21.0 L303.7 21.0 L303.7 21.0 L303.9 21.0 L303.9 21.0 L304.1 21.0 L304.1 21.0 L304.3 21.0 L304.3 21.0 L304.5 21.0 L304.5 21.0 L304.7 21.0 L304.7 21.0 L304.9 21.0 L304.9 21.0 L305.1 21.0 L305.1 21.0 L305.3 21.0 L305.3 21.0 L305.5 21.0 L305.5 21.0 L305.7 21.0 L305.7 21.0 L305.9 21.0 L305.9 21.0 L306.1 21.0 L306.1 21.0 L306.3 21.0 L306.3 21.0 L306.5 21.0 L306.5 21.0 L306.7 21.0 L306.7 21.0 L306.9 21.0 L306.9 21.0 L307.1 21.0 L307.1 21.0 L307.3 21.0 L307.3 21.0 L307.5 21.0 L307.5 21.0 L307.7 21.0 L307.7 21.0 L307.9 21.0 L307.9 21.0 L308.1 21.0 L308.1 21.0 L308.3 21.0 L308.3 21.0 L308.5 21.0 L308.5 21.0 L308.7 21.0 L308.7 21.0 L308.9 21.0 L308.9 21.0 L309.1 21.0 L309.1 21.0 L309.3 21.0 L309.3 21.0 L309.5 21.0 L309.5 21.0 L309.7 21.0 L309.7 21.0 L309.9 21.0 L309.9 21.0 L310.1 21.0 L310.1 21.0 L310.3 21.0 L310.3 21.0 L310.5 21.0 L310.5 21.0 L310.7 21.0 L310.7 21.0 L310.9 21.0 L310.9 21.0 L311.1 21.0 L311.1 21.0 L311.3 21.0 L311.3 21.0 L311.5 21.0 L311.5 21.0 L311.7 21.0 L311.7 21.0 L311.9 21.0 L311.9 21.0 L312.1 21.0 L312.1 21.0 L312.3 21.0 L312.3 21.0 L312.5 21.0 L312.5 21.0 L312.7 21.0 L312.7 21.0 L312.9 21.0 L312.9 21.0 L313.1 21.0 L313.1 21.0 L313.3 21.0 L313.3 21.0 L313.5 21.0 L313.5 21.0 L313.7 21.0 L313.7 21.0 L313.9 21.0 L313.9 21.0 L314.1 21.0 L314.1 21.0 L314.3 21.0 L314.3 21.0 L314.5 21.0 L314.5 21.0 L314.7 21.0 L314.7 21.0 L314.9 21.0 L314.9 21.0 L315.1 21.0 L315.1 21.0 L315.3 21.0 L315.3 21.0 L315.5 21.0 L315.5 21.0 L315.7 21.0 L315.7 21.0 L315.9 21.0 L315.9 21.0 L316.1 21.0 L316.1 21.0 L316.3 21.0 L316.3 21.0 L316.5 21.0 L316.5 21.0 L316.7 21.0 L316.7 21.0 L316.9 21.0 L316.9 21.0 L317.1 21.0 L317.1 21.0 L317.3 21.0 L317.3 21.0 L317.5 21.0 L317.5 21.0 L317.7 21.0 L317.7 21.0 L317.9 21.0 L317.9 21.0 L318.1 21.0 L318.1 21.0 L318.3 21.0 L318.3 21.0 L318.5 21.0 L318.5 21.0 L318.7 21.0 L318.7 21.0 L318.9 21.0 L318.9 21.0 L319.1 21.0 L319.1 21.0 L319.3 21.0 L319.3 21.0 L319.5 21.0 L319.5 21.0 L319.7 21.0 L319.7 21.0 L319.9 21.0 L319.9 21.0 L320.1 21.0 L320.1 21.0 L320.3 21.0 L320.3 21.0 L320.5 21.0 L320.5 21.0 L320.7 21.0 L320.7 21.0 L320.9 21.0 L320.9 21.0 L321.1 21.0 L321.1 21.0 L321.3 21.0 L321.3 21.0 L321.5 21.0 L321.5 21.0 L321.7 21.0 L321.7 21.0 L321.9 21.0 L321.9 21.0 L322.1 21.0 L322.1 21.0 L322.3 21.0 L322.3 21.0 L322.5 21.0 L322.5 21.0 L322.7 21.0 L322.7 21.0 L322.9 21.0 L322.9 21.0 L323.1 21.0 L323.1 21.0 L323.3 21.0 L323.3 21.0 L323.5 21.0 L323.5 21.0 L323.7 21.0 L323.7 21.0 L323.9 21.0 L323.9 21.0 L324.1 21.0 L324.1 21.0 L324.3 21.0 L324.3 21.0 L324.5 21.0 L324.5 21.0 L324.7 21.0 L324.7 21.0 L324.9 21.0 L324.9 21.0 L325.1 21.0 L325.1 21.0 L325.3 21.0 L325.3 21.0 L325.5 21.0 L325.5 21.0 L325.7 21.0 L325.7 21.0 L325.9 21.0 L325.9 21.0 L326.1 21.0 L326.1 21.0 L326.3 21.0 L326.3 21.0 L326.5 21.0 L326.5 21.0 L326.7 21.0 L326.7 21.0 L326.9 21.0 L326.9 21.0 L327.1 21.0 L327.1 21.0 L327.3 21.0 L327.3 21.0 L327.5 21.0 L327.5 21.0 L327.7 21.0 L327.7 21.0 L327.9 21.0 L327.9 21.0 L328.1 21.0 L328.1 21.0 L328.3 21.0 L328.3 21.0 L328.5 21.0 L328.5 21.0 L328.7 21.0 L328.7 21.0 L328.9 21.0 L328.9 21.0 L329.1 21.0 L329.1 21.0 L329.3 21.0 L329.3 21.0 L329.5 21.0 L329.5 21.0 L329.7 21.0 L329.7 21.0 L329.9 21.0 L329.9 21.0 L330.1 21.0 L330.1 21.0 L330.3 21.0 L330.3 21.0 L330.5 21.0 L330.5 21.0 L330.7 21.0 L330.7 21.0 L330.9 21.0 L330.9 21.0 L331.1 21.0 L331.1 21.0 L331.3 21.0 L331.3 21.0 L331.5 21.0 L331.5 21.0 L331.7 21.0 L331.7 21.0 L331.9 21.0 L331.9 21.0 L332.1 21.0 L332.1 21.0 L332.3 21.0 L332.3 21.0 L332.5 21.0 L332.5 21.0 L332.7 21.0 L332.7 21.0 L332.9 21.0 L332.9 21.0 L333.1 21.0 L333.1 21.0 L333.3 21.0 L333.3 21.0 L333.5 21.0 L333.5 21.0 L333.7 21.0 L333.7 21.0 L333.9 21.0 L333.9 21.0 L334.1 21.0 L334.1 21.0 L334.3 21.0 L334.3 21.0 L334.5 21.0 L334.5 21.0 L334.7 21.0 L334.7 21.0 L334.9 21.0 L334.9 21.0 L335.1 21.0 L335.1 21.0 L335.3 21.0 L335.3 21.0 L335.5 21.0 L335.5 21.0 L335.7 21.0 L335.7 21.0 L335.9 21.0 L335.9 21.0 L336.1 21.0 L336.1 21.0 L336.3 21.0 L336.3 21.0 L336.5 21.0 L336.5 21.0 L336.7 21.0 L336.7 21.0 L336.9 21.0 L336.9 21.0 L337.1 21.0 L337.1 21.0 L337.3 21.0 L337.3 21.0 L337.5 21.0 L337.5 21.0 L337.7 21.0 L337.7 21.0 L337.9 21.0 L337.9 21.0 L338.1 21.0 L338.1 21.0 L338.3 21.0 L338.3 21.0 L338.5 21.0 L338.5 21.0 L338.7 21.0 L338.7 21.0 L338.9 21.0 L338.9 21.0 L339.1 21.0 L339.1 21.0 L339.3 21.0 L339.3 21.0 L339.5 21.0 L339.5 21.0 L339.7 21.0 L339.7 21.0 L339.9 21.0 L339.9 21.0 L340.1 21.0 L340.1 21.0 L340.3 21.0 L340.3 21.0 L340.5 21.0 L340.5 21.0 L340.7 21.0 L340.7 21.0 L340.9 21.0 L340.9 21.0 L341.1 21.0 L341.1 21.0 L341.3 21.0 L341.3 21.0 L341.5 21.0 L341.5 21.0 L341.7 21.0 L341.7 21.0 L341.9 21.0 L341.9 21.0 L342.1 21.0 L342.1 21.0 L342.3 21.0 L342.3 21.0 L342.5 21.0 L342.5 21.0 L342.7 21.0 L342.7 21.0 L342.9 21.0 L342.9 21.0 L343.1 21.0 L343.1 21.0 L343.3 21.0 L343.3 21.0 L343.5 21.0 L343.5 21.0 L343.7 21.0 L343.7 21.0 L343.9 21.0 L343.9 21.0 L344.1 21.0 L344.1 21.0 L344.3 21.0 L344.3 21.0 L344.5 21.0 L344.5 21.0 L344.7 21.0 L344.7 21.0 L344.9 21.0 L344.9 21.0 L345.1 21.0 L345.1 21.0 L345.3 21.0 L345.3 21.0 L345.5 21.0 L345.5 21.0 L345.7 21.0 L345.7 21.0 L345.9 21.0 L345.9 21.0 L346.1 21.0 L346.1 21.0 L346.3 21.0 L346.3 21.0 L346.5 21.0 L346.5 21.0 L346.7 21.0 L346.7 21.0 L346.9 21.0 L346.9 21.0 L347.1 21.0 L347.1 21.0 L347.3 21.0 L347.3 21.0 L347.5 21.0 L347.5 21.0 L347.7 21.0 L347.7 21.0 L347.9 21.0 L347.9 21.0 L348.1 21.0 L348.1 21.0 L348.3 21.0 L348.3 21.0 L348.5 21.0 L348.5 21.0 L348.7 21.0 L348.7 21.0 L348.9 21.0 L348.9 21.0 L349.1 21.0 L349.1 21.0 L349.3 21.0 L349.3 21.0 L349.4 21.0" stroke="#d62728"/>
</g>
<g stroke="#000" stroke-width="0.9">
<path d="M362.50 164.50h3.9"/>
<path d="M362.50 92.50h3.9"/>
<path d="M362.50 21.50h3.9"/>
</g>
<g font-size="17.3px" fill="#000">
<text x="369.9" y="171" letter-spacing="0.35">0.6</text>
<text x="369.9" y="99" letter-spacing="0.35">0.8</text>
<text x="369.0" y="28" letter-spacing="0.35">1.0</text>
</g>
<text transform="translate(416.1 120.6) rotate(-90)" text-anchor="middle" font-size="20px" fill="#ff7f0e">Acc</text>
<rect x="75.50" y="11.50" width="287.00" height="216.00" fill="none" stroke="#000" stroke-width="0.9"/>
</svg>
</body></html>
